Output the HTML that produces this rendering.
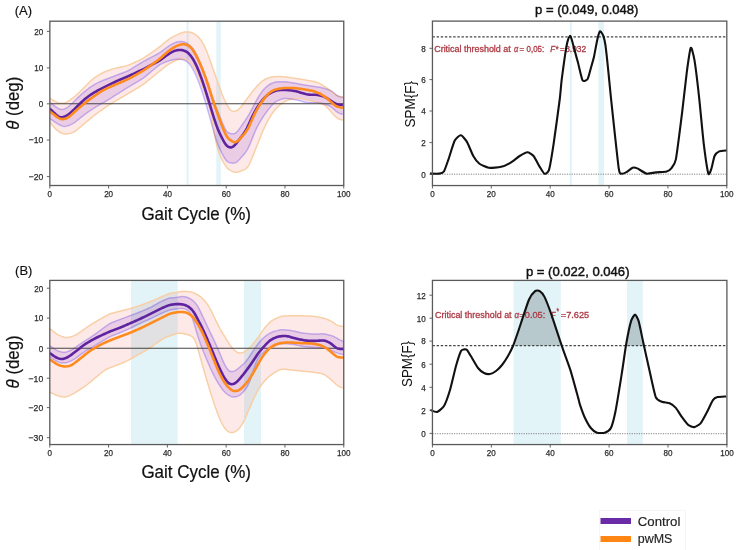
<!DOCTYPE html>
<html><head><meta charset="utf-8"><style>
html,body{margin:0;padding:0;background:#fff;}
body{width:739px;height:550px;overflow:hidden;position:relative;}
svg{position:absolute;left:0;top:0;}
.tk{font-family:"Liberation Sans",sans-serif;font-size:9.2px;fill:#2a2a2a;stroke:#2a2a2a;stroke-width:0.25;}
.lab{font-family:"Liberation Sans",sans-serif;fill:#111;}
.crit{font-family:"Liberation Sans",sans-serif;font-size:8.8px;fill:#ad3a45;stroke:#ad3a45;stroke-width:0.3;}
.big{stroke:#111;stroke-width:0.2;}
.ttl{stroke:#111;stroke-width:0.45;}
.leg{fill:#222;stroke:#222;stroke-width:0.15;}
.pl{stroke:#111;stroke-width:0.15;}
</style></head><body>
<svg width="739" height="550" viewBox="0 0 739 550">
<defs><clipPath id="cA"><rect x="49.85" y="21.20" width="293.90" height="164.30"/></clipPath>
<clipPath id="cB"><rect x="49.80" y="280.40" width="293.95" height="164.15"/></clipPath></defs>
<g clip-path="url(#cA)" style="isolation:isolate">
<path d="M48.91,97.88 L49.91,98.30 L50.91,98.84 L51.91,99.45 L52.91,100.09 L53.91,100.71 L54.91,101.29 L55.91,101.80 L56.91,102.24 L57.91,102.60 L58.91,102.89 L59.91,103.10 L60.91,103.21 L61.91,103.23 L62.91,103.15 L63.91,102.98 L64.91,102.73 L65.91,102.37 L66.91,101.92 L67.91,101.38 L68.91,100.76 L69.91,100.10 L70.91,99.41 L71.91,98.70 L72.91,97.97 L73.91,97.21 L74.91,96.41 L75.91,95.55 L76.91,94.64 L77.91,93.69 L78.91,92.71 L79.91,91.72 L80.91,90.73 L81.91,89.73 L82.91,88.73 L83.91,87.73 L84.91,86.73 L85.91,85.73 L86.91,84.73 L87.91,83.73 L88.91,82.73 L89.91,81.75 L90.91,80.78 L91.91,79.85 L92.91,78.98 L93.91,78.18 L94.91,77.44 L95.91,76.77 L96.91,76.13 L97.91,75.52 L98.91,74.92 L99.91,74.33 L100.91,73.77 L101.91,73.23 L102.91,72.72 L103.91,72.25 L104.91,71.81 L105.91,71.39 L106.91,70.99 L107.91,70.59 L108.91,70.20 L109.91,69.83 L110.91,69.48 L111.91,69.16 L112.91,68.88 L113.91,68.62 L114.91,68.37 L115.91,68.14 L116.91,67.92 L117.91,67.70 L118.91,67.47 L119.91,67.25 L120.91,67.03 L121.91,66.81 L122.91,66.58 L123.91,66.36 L124.91,66.12 L125.91,65.87 L126.91,65.60 L127.91,65.28 L128.91,64.92 L129.91,64.52 L130.91,64.09 L131.91,63.64 L132.91,63.18 L133.91,62.72 L134.91,62.26 L135.91,61.80 L136.91,61.33 L137.91,60.87 L138.91,60.40 L139.91,59.93 L140.91,59.43 L141.91,58.91 L142.91,58.35 L143.91,57.75 L144.91,57.11 L145.91,56.45 L146.91,55.78 L147.91,55.10 L148.91,54.41 L149.91,53.73 L150.91,53.04 L151.91,52.36 L152.91,51.67 L153.91,50.99 L154.91,50.30 L155.91,49.61 L156.91,48.92 L157.91,48.21 L158.91,47.47 L159.91,46.70 L160.91,45.90 L161.91,45.05 L162.91,44.19 L163.91,43.31 L164.91,42.45 L165.91,41.61 L166.91,40.81 L167.91,40.07 L168.91,39.38 L169.91,38.73 L170.91,38.11 L171.91,37.51 L172.91,36.93 L173.91,36.37 L174.91,35.84 L175.91,35.33 L176.91,34.85 L177.91,34.38 L178.91,33.93 L179.91,33.51 L180.91,33.12 L181.91,32.78 L182.91,32.50 L183.91,32.27 L184.91,32.09 L185.91,31.97 L186.91,31.91 L187.91,31.93 L188.91,32.03 L189.91,32.21 L190.91,32.46 L191.91,32.78 L192.91,33.18 L193.91,33.68 L194.91,34.27 L195.91,34.95 L196.91,35.73 L197.91,36.62 L198.91,37.63 L199.91,38.79 L200.91,40.13 L201.91,41.63 L202.91,43.32 L203.91,45.19 L204.91,47.24 L205.91,49.48 L206.91,51.88 L207.91,54.43 L208.91,57.13 L209.91,59.93 L210.91,62.79 L211.91,65.67 L212.91,68.53 L213.91,71.36 L214.91,74.16 L215.91,76.96 L216.91,79.77 L217.91,82.61 L218.91,85.46 L219.91,88.31 L220.91,91.09 L221.91,93.76 L222.91,96.26 L223.91,98.58 L224.91,100.75 L225.91,102.78 L226.91,104.70 L227.91,106.48 L228.91,108.04 L229.91,109.33 L230.91,110.29 L231.91,110.94 L232.91,111.31 L233.91,111.44 L234.91,111.34 L235.91,111.04 L236.91,110.53 L237.91,109.86 L238.91,109.04 L239.91,108.08 L240.91,106.98 L241.91,105.77 L242.91,104.48 L243.91,103.13 L244.91,101.76 L245.91,100.39 L246.91,99.02 L247.91,97.66 L248.91,96.32 L249.91,94.98 L250.91,93.65 L251.91,92.35 L252.91,91.07 L253.91,89.82 L254.91,88.63 L255.91,87.47 L256.91,86.35 L257.91,85.26 L258.91,84.21 L259.91,83.20 L260.91,82.27 L261.91,81.43 L262.91,80.70 L263.91,80.07 L264.91,79.50 L265.91,78.99 L266.91,78.51 L267.91,78.08 L268.91,77.71 L269.91,77.40 L270.91,77.17 L271.91,76.99 L272.91,76.86 L273.91,76.75 L274.91,76.65 L275.91,76.57 L276.91,76.50 L277.91,76.47 L278.91,76.47 L279.91,76.51 L280.91,76.57 L281.91,76.66 L282.91,76.75 L283.91,76.85 L284.91,76.95 L285.91,77.06 L286.91,77.18 L287.91,77.31 L288.91,77.44 L289.91,77.58 L290.91,77.73 L291.91,77.88 L292.91,78.03 L293.91,78.18 L294.91,78.33 L295.91,78.48 L296.91,78.63 L297.91,78.78 L298.91,78.94 L299.91,79.09 L300.91,79.26 L301.91,79.42 L302.91,79.59 L303.91,79.76 L304.91,79.94 L305.91,80.11 L306.91,80.29 L307.91,80.48 L308.91,80.66 L309.91,80.85 L310.91,81.03 L311.91,81.22 L312.91,81.41 L313.91,81.61 L314.91,81.82 L315.91,82.06 L316.91,82.35 L317.91,82.72 L318.91,83.17 L319.91,83.69 L320.91,84.27 L321.91,84.89 L322.91,85.52 L323.91,86.17 L324.91,86.82 L325.91,87.48 L326.91,88.16 L327.91,88.88 L328.91,89.62 L329.91,90.40 L330.91,91.20 L331.91,92.02 L332.91,92.83 L333.91,93.63 L334.91,94.37 L335.91,95.03 L336.91,95.56 L337.91,95.97 L338.91,96.26 L339.91,96.45 L340.91,96.59 L341.91,96.68 L342.91,96.75 L342.91,119.97 L341.91,119.86 L340.91,119.68 L339.91,119.40 L338.91,118.99 L337.91,118.43 L336.91,117.71 L335.91,116.87 L334.91,115.92 L333.91,114.92 L332.91,113.86 L331.91,112.75 L330.91,111.62 L329.91,110.46 L328.91,109.30 L327.91,108.18 L326.91,107.13 L325.91,106.20 L324.91,105.42 L323.91,104.80 L322.91,104.31 L321.91,103.91 L320.91,103.56 L319.91,103.24 L318.91,102.92 L317.91,102.61 L316.91,102.30 L315.91,102.00 L314.91,101.70 L313.91,101.42 L312.91,101.16 L311.91,100.90 L310.91,100.66 L309.91,100.43 L308.91,100.20 L307.91,99.97 L306.91,99.75 L305.91,99.52 L304.91,99.30 L303.91,99.08 L302.91,98.87 L301.91,98.68 L300.91,98.53 L299.91,98.43 L298.91,98.39 L297.91,98.39 L296.91,98.42 L295.91,98.48 L294.91,98.56 L293.91,98.65 L292.91,98.77 L291.91,98.94 L290.91,99.16 L289.91,99.45 L288.91,99.79 L287.91,100.17 L286.91,100.59 L285.91,101.04 L284.91,101.53 L283.91,102.09 L282.91,102.72 L281.91,103.42 L280.91,104.18 L279.91,104.99 L278.91,105.83 L277.91,106.73 L276.91,107.70 L275.91,108.75 L274.91,109.91 L273.91,111.17 L272.91,112.52 L271.91,113.94 L270.91,115.44 L269.91,117.04 L268.91,118.75 L267.91,120.56 L266.91,122.46 L265.91,124.45 L264.91,126.51 L263.91,128.65 L262.91,130.89 L261.91,133.23 L260.91,135.65 L259.91,138.13 L258.91,140.65 L257.91,143.19 L256.91,145.73 L255.91,148.27 L254.91,150.82 L253.91,153.36 L252.91,155.89 L251.91,158.39 L250.91,160.80 L249.91,163.05 L248.91,165.03 L247.91,166.65 L246.91,167.87 L245.91,168.76 L244.91,169.39 L243.91,169.87 L242.91,170.28 L241.91,170.66 L240.91,171.04 L239.91,171.40 L238.91,171.73 L237.91,172.02 L236.91,172.21 L235.91,172.26 L234.91,172.16 L233.91,171.92 L232.91,171.55 L231.91,171.11 L230.91,170.62 L229.91,170.08 L228.91,169.45 L227.91,168.68 L226.91,167.70 L225.91,166.46 L224.91,164.96 L223.91,163.24 L222.91,161.38 L221.91,159.41 L220.91,157.33 L219.91,155.08 L218.91,152.51 L217.91,149.44 L216.91,145.73 L215.91,141.33 L214.91,136.33 L213.91,130.93 L212.91,125.36 L211.91,119.85 L210.91,114.60 L209.91,109.81 L208.91,105.57 L207.91,101.88 L206.91,98.64 L205.91,95.70 L204.91,92.93 L203.91,90.24 L202.91,87.60 L201.91,85.01 L200.91,82.48 L199.91,80.02 L198.91,77.65 L197.91,75.39 L196.91,73.25 L195.91,71.25 L194.91,69.40 L193.91,67.70 L192.91,66.15 L191.91,64.75 L190.91,63.51 L189.91,62.43 L188.91,61.51 L187.91,60.75 L186.91,60.15 L185.91,59.69 L184.91,59.35 L183.91,59.11 L182.91,58.97 L181.91,58.93 L180.91,58.99 L179.91,59.15 L178.91,59.38 L177.91,59.66 L176.91,59.98 L175.91,60.33 L174.91,60.74 L173.91,61.20 L172.91,61.71 L171.91,62.26 L170.91,62.84 L169.91,63.45 L168.91,64.08 L167.91,64.74 L166.91,65.43 L165.91,66.16 L164.91,66.92 L163.91,67.70 L162.91,68.50 L161.91,69.30 L160.91,70.10 L159.91,70.91 L158.91,71.72 L157.91,72.53 L156.91,73.34 L155.91,74.16 L154.91,74.98 L153.91,75.79 L152.91,76.61 L151.91,77.42 L150.91,78.24 L149.91,79.06 L148.91,79.87 L147.91,80.69 L146.91,81.50 L145.91,82.31 L144.91,83.10 L143.91,83.87 L142.91,84.60 L141.91,85.29 L140.91,85.94 L139.91,86.57 L138.91,87.17 L137.91,87.77 L136.91,88.36 L135.91,88.96 L134.91,89.55 L133.91,90.14 L132.91,90.73 L131.91,91.32 L130.91,91.91 L129.91,92.51 L128.91,93.10 L127.91,93.69 L126.91,94.28 L125.91,94.87 L124.91,95.46 L123.91,96.05 L122.91,96.64 L121.91,97.24 L120.91,97.83 L119.91,98.42 L118.91,99.01 L117.91,99.60 L116.91,100.19 L115.91,100.78 L114.91,101.37 L113.91,101.96 L112.91,102.55 L111.91,103.15 L110.91,103.75 L109.91,104.35 L108.91,104.98 L107.91,105.62 L106.91,106.29 L105.91,106.97 L104.91,107.67 L103.91,108.38 L102.91,109.09 L101.91,109.81 L100.91,110.52 L99.91,111.24 L98.91,111.95 L97.91,112.68 L96.91,113.41 L95.91,114.16 L94.91,114.93 L93.91,115.72 L92.91,116.53 L91.91,117.36 L90.91,118.18 L89.91,119.02 L88.91,119.85 L87.91,120.68 L86.91,121.52 L85.91,122.35 L84.91,123.18 L83.91,124.02 L82.91,124.85 L81.91,125.68 L80.91,126.52 L79.91,127.35 L78.91,128.18 L77.91,129.01 L76.91,129.82 L75.91,130.59 L74.91,131.30 L73.91,131.93 L72.91,132.44 L71.91,132.84 L70.91,133.15 L69.91,133.41 L68.91,133.62 L67.91,133.80 L66.91,133.94 L65.91,134.02 L64.91,133.99 L63.91,133.85 L62.91,133.58 L61.91,133.21 L60.91,132.76 L59.91,132.24 L58.91,131.64 L57.91,130.94 L56.91,130.12 L55.91,129.18 L54.91,128.11 L53.91,126.98 L52.91,125.81 L51.91,124.67 L50.91,123.60 L49.91,122.68 L48.91,121.95 Z" fill="#fdeae8" style="mix-blend-mode:multiply"/>
<path d="M48.91,102.13 L49.91,102.59 L50.91,103.18 L51.91,103.87 L52.91,104.61 L53.91,105.38 L54.91,106.14 L55.91,106.89 L56.91,107.58 L57.91,108.19 L58.91,108.70 L59.91,109.08 L60.91,109.32 L61.91,109.41 L62.91,109.35 L63.91,109.13 L64.91,108.77 L65.91,108.28 L66.91,107.69 L67.91,107.00 L68.91,106.23 L69.91,105.39 L70.91,104.48 L71.91,103.52 L72.91,102.54 L73.91,101.54 L74.91,100.55 L75.91,99.55 L76.91,98.56 L77.91,97.59 L78.91,96.63 L79.91,95.70 L80.91,94.79 L81.91,93.91 L82.91,93.04 L83.91,92.19 L84.91,91.36 L85.91,90.55 L86.91,89.75 L87.91,88.98 L88.91,88.22 L89.91,87.47 L90.91,86.75 L91.91,86.05 L92.91,85.39 L93.91,84.78 L94.91,84.20 L95.91,83.67 L96.91,83.15 L97.91,82.65 L98.91,82.17 L99.91,81.70 L100.91,81.25 L101.91,80.82 L102.91,80.40 L103.91,80.00 L104.91,79.60 L105.91,79.22 L106.91,78.83 L107.91,78.46 L108.91,78.08 L109.91,77.70 L110.91,77.33 L111.91,76.95 L112.91,76.58 L113.91,76.20 L114.91,75.82 L115.91,75.45 L116.91,75.07 L117.91,74.70 L118.91,74.32 L119.91,73.95 L120.91,73.57 L121.91,73.20 L122.91,72.82 L123.91,72.44 L124.91,72.05 L125.91,71.65 L126.91,71.21 L127.91,70.74 L128.91,70.22 L129.91,69.66 L130.91,69.08 L131.91,68.47 L132.91,67.85 L133.91,67.23 L134.91,66.61 L135.91,65.98 L136.91,65.36 L137.91,64.74 L138.91,64.12 L139.91,63.50 L140.91,62.89 L141.91,62.30 L142.91,61.71 L143.91,61.15 L144.91,60.60 L145.91,60.07 L146.91,59.53 L147.91,59.01 L148.91,58.48 L149.91,57.95 L150.91,57.43 L151.91,56.90 L152.91,56.37 L153.91,55.85 L154.91,55.32 L155.91,54.79 L156.91,54.25 L157.91,53.69 L158.91,53.10 L159.91,52.46 L160.91,51.78 L161.91,51.05 L162.91,50.29 L163.91,49.51 L164.91,48.74 L165.91,47.98 L166.91,47.25 L167.91,46.56 L168.91,45.89 L169.91,45.26 L170.91,44.66 L171.91,44.09 L172.91,43.55 L173.91,43.07 L174.91,42.66 L175.91,42.32 L176.91,42.05 L177.91,41.82 L178.91,41.64 L179.91,41.51 L180.91,41.46 L181.91,41.50 L182.91,41.66 L183.91,41.91 L184.91,42.25 L185.91,42.68 L186.91,43.19 L187.91,43.79 L188.91,44.50 L189.91,45.31 L190.91,46.22 L191.91,47.28 L192.91,48.51 L193.91,49.94 L194.91,51.59 L195.91,53.42 L196.91,55.40 L197.91,57.51 L198.91,59.71 L199.91,62.00 L200.91,64.36 L201.91,66.80 L202.91,69.32 L203.91,71.92 L204.91,74.59 L205.91,77.33 L206.91,80.15 L207.91,83.04 L208.91,86.00 L209.91,89.01 L210.91,92.06 L211.91,95.11 L212.91,98.14 L213.91,101.09 L214.91,103.94 L215.91,106.67 L216.91,109.29 L217.91,111.84 L218.91,114.34 L219.91,116.83 L220.91,119.30 L221.91,121.75 L222.91,124.14 L223.91,126.41 L224.91,128.45 L225.91,130.15 L226.91,131.46 L227.91,132.36 L228.91,132.95 L229.91,133.31 L230.91,133.54 L231.91,133.69 L232.91,133.74 L233.91,133.65 L234.91,133.35 L235.91,132.77 L236.91,131.90 L237.91,130.79 L238.91,129.50 L239.91,128.11 L240.91,126.67 L241.91,125.22 L242.91,123.76 L243.91,122.30 L244.91,120.83 L245.91,119.34 L246.91,117.82 L247.91,116.24 L248.91,114.57 L249.91,112.81 L250.91,110.96 L251.91,109.05 L252.91,107.11 L253.91,105.18 L254.91,103.28 L255.91,101.43 L256.91,99.63 L257.91,97.89 L258.91,96.21 L259.91,94.59 L260.91,93.07 L261.91,91.66 L262.91,90.39 L263.91,89.23 L264.91,88.18 L265.91,87.20 L266.91,86.32 L267.91,85.53 L268.91,84.84 L269.91,84.26 L270.91,83.75 L271.91,83.30 L272.91,82.89 L273.91,82.53 L274.91,82.22 L275.91,81.98 L276.91,81.81 L277.91,81.72 L278.91,81.67 L279.91,81.65 L280.91,81.64 L281.91,81.65 L282.91,81.67 L283.91,81.71 L284.91,81.77 L285.91,81.86 L286.91,81.97 L287.91,82.10 L288.91,82.24 L289.91,82.38 L290.91,82.53 L291.91,82.68 L292.91,82.84 L293.91,83.01 L294.91,83.19 L295.91,83.37 L296.91,83.57 L297.91,83.76 L298.91,83.95 L299.91,84.14 L300.91,84.32 L301.91,84.50 L302.91,84.68 L303.91,84.85 L304.91,85.02 L305.91,85.18 L306.91,85.34 L307.91,85.50 L308.91,85.65 L309.91,85.80 L310.91,85.95 L311.91,86.10 L312.91,86.25 L313.91,86.40 L314.91,86.55 L315.91,86.71 L316.91,86.86 L317.91,87.01 L318.91,87.18 L319.91,87.36 L320.91,87.57 L321.91,87.80 L322.91,88.05 L323.91,88.32 L324.91,88.60 L325.91,88.89 L326.91,89.18 L327.91,89.50 L328.91,89.85 L329.91,90.27 L330.91,90.79 L331.91,91.42 L332.91,92.15 L333.91,92.95 L334.91,93.78 L335.91,94.60 L336.91,95.35 L337.91,95.99 L338.91,96.51 L339.91,96.88 L340.91,97.14 L341.91,97.32 L342.91,97.43 L342.91,114.15 L341.91,114.04 L340.91,113.86 L339.91,113.58 L338.91,113.17 L337.91,112.61 L336.91,111.90 L335.91,111.06 L334.91,110.16 L333.91,109.23 L332.91,108.34 L331.91,107.52 L330.91,106.80 L329.91,106.20 L328.91,105.70 L327.91,105.27 L326.91,104.88 L325.91,104.52 L324.91,104.16 L323.91,103.83 L322.91,103.51 L321.91,103.24 L320.91,103.03 L319.91,102.89 L318.91,102.80 L317.91,102.75 L316.91,102.74 L315.91,102.73 L314.91,102.73 L313.91,102.73 L312.91,102.73 L311.91,102.73 L310.91,102.72 L309.91,102.71 L308.91,102.69 L307.91,102.63 L306.91,102.53 L305.91,102.37 L304.91,102.17 L303.91,101.91 L302.91,101.63 L301.91,101.35 L300.91,101.06 L299.91,100.79 L298.91,100.54 L297.91,100.30 L296.91,100.07 L295.91,99.85 L294.91,99.64 L293.91,99.44 L292.91,99.24 L291.91,99.06 L290.91,98.91 L289.91,98.77 L288.91,98.66 L287.91,98.57 L286.91,98.50 L285.91,98.46 L284.91,98.47 L283.91,98.56 L282.91,98.74 L281.91,99.00 L280.91,99.34 L279.91,99.73 L278.91,100.15 L277.91,100.60 L276.91,101.11 L275.91,101.69 L274.91,102.39 L273.91,103.22 L272.91,104.19 L271.91,105.27 L270.91,106.42 L269.91,107.63 L268.91,108.88 L267.91,110.17 L266.91,111.50 L265.91,112.86 L264.91,114.26 L263.91,115.70 L262.91,117.19 L261.91,118.75 L260.91,120.38 L259.91,122.09 L258.91,123.86 L257.91,125.72 L256.91,127.67 L255.91,129.76 L254.91,132.00 L253.91,134.38 L252.91,136.88 L251.91,139.44 L250.91,141.98 L249.91,144.42 L248.91,146.68 L247.91,148.69 L246.91,150.42 L245.91,151.90 L244.91,153.21 L243.91,154.41 L242.91,155.56 L241.91,156.69 L240.91,157.81 L239.91,158.92 L238.91,159.98 L237.91,160.97 L236.91,161.82 L235.91,162.48 L234.91,162.90 L233.91,163.11 L232.91,163.14 L231.91,163.07 L230.91,162.92 L229.91,162.70 L228.91,162.37 L227.91,161.88 L226.91,161.12 L225.91,160.05 L224.91,158.67 L223.91,157.01 L222.91,155.18 L221.91,153.24 L220.91,151.22 L219.91,149.12 L218.91,146.89 L217.91,144.45 L216.91,141.75 L215.91,138.77 L214.91,135.54 L213.91,132.13 L212.91,128.62 L211.91,125.06 L210.91,121.48 L209.91,117.91 L208.91,114.34 L207.91,110.79 L206.91,107.29 L205.91,103.87 L204.91,100.55 L203.91,97.35 L202.91,94.25 L201.91,91.26 L200.91,88.37 L199.91,85.57 L198.91,82.87 L197.91,80.27 L196.91,77.80 L195.91,75.47 L194.91,73.28 L193.91,71.24 L192.91,69.36 L191.91,67.63 L190.91,66.07 L189.91,64.68 L188.91,63.47 L187.91,62.45 L186.91,61.63 L185.91,60.98 L184.91,60.47 L183.91,60.07 L182.91,59.76 L181.91,59.52 L180.91,59.36 L179.91,59.27 L178.91,59.22 L177.91,59.21 L176.91,59.23 L175.91,59.29 L174.91,59.39 L173.91,59.55 L172.91,59.76 L171.91,60.01 L170.91,60.29 L169.91,60.59 L168.91,60.90 L167.91,61.23 L166.91,61.58 L165.91,61.94 L164.91,62.33 L163.91,62.73 L162.91,63.15 L161.91,63.61 L160.91,64.12 L159.91,64.71 L158.91,65.37 L157.91,66.11 L156.91,66.89 L155.91,67.71 L154.91,68.54 L153.91,69.37 L152.91,70.21 L151.91,71.05 L150.91,71.89 L149.91,72.72 L148.91,73.56 L147.91,74.40 L146.91,75.23 L145.91,76.06 L144.91,76.87 L143.91,77.65 L142.91,78.39 L141.91,79.08 L140.91,79.73 L139.91,80.35 L138.91,80.94 L137.91,81.53 L136.91,82.11 L135.91,82.69 L134.91,83.27 L133.91,83.85 L132.91,84.43 L131.91,85.01 L130.91,85.59 L129.91,86.18 L128.91,86.77 L127.91,87.38 L126.91,87.99 L125.91,88.61 L124.91,89.24 L123.91,89.88 L122.91,90.51 L121.91,91.15 L120.91,91.79 L119.91,92.42 L118.91,93.06 L117.91,93.69 L116.91,94.33 L115.91,94.97 L114.91,95.60 L113.91,96.24 L112.91,96.88 L111.91,97.51 L110.91,98.14 L109.91,98.77 L108.91,99.39 L107.91,100.00 L106.91,100.60 L105.91,101.18 L104.91,101.76 L103.91,102.34 L102.91,102.91 L101.91,103.48 L100.91,104.05 L99.91,104.62 L98.91,105.20 L97.91,105.78 L96.91,106.37 L95.91,106.97 L94.91,107.58 L93.91,108.22 L92.91,108.86 L91.91,109.52 L90.91,110.18 L89.91,110.85 L88.91,111.52 L87.91,112.19 L86.91,112.87 L85.91,113.57 L84.91,114.29 L83.91,115.04 L82.91,115.81 L81.91,116.61 L80.91,117.43 L79.91,118.26 L78.91,119.09 L77.91,119.92 L76.91,120.74 L75.91,121.53 L74.91,122.28 L73.91,122.97 L72.91,123.58 L71.91,124.12 L70.91,124.60 L69.91,125.03 L68.91,125.44 L67.91,125.81 L66.91,126.14 L65.91,126.37 L64.91,126.49 L63.91,126.44 L62.91,126.24 L61.91,125.91 L60.91,125.49 L59.91,125.01 L58.91,124.49 L57.91,123.94 L56.91,123.34 L55.91,122.71 L54.91,122.05 L53.91,121.36 L52.91,120.67 L51.91,120.00 L50.91,119.38 L49.91,118.85 L48.91,118.43 Z" fill="#ece0fc" style="mix-blend-mode:multiply"/>
<rect x="186.60" y="21.20" width="2.00" height="164.30" fill="#e0f3f8" style="mix-blend-mode:multiply"/>
<rect x="216.30" y="21.20" width="4.50" height="164.30" fill="#e3f4f9" style="mix-blend-mode:multiply"/>
<path d="M48.91,97.88 L49.91,98.30 L50.91,98.84 L51.91,99.45 L52.91,100.09 L53.91,100.71 L54.91,101.29 L55.91,101.80 L56.91,102.24 L57.91,102.60 L58.91,102.89 L59.91,103.10 L60.91,103.21 L61.91,103.23 L62.91,103.15 L63.91,102.98 L64.91,102.73 L65.91,102.37 L66.91,101.92 L67.91,101.38 L68.91,100.76 L69.91,100.10 L70.91,99.41 L71.91,98.70 L72.91,97.97 L73.91,97.21 L74.91,96.41 L75.91,95.55 L76.91,94.64 L77.91,93.69 L78.91,92.71 L79.91,91.72 L80.91,90.73 L81.91,89.73 L82.91,88.73 L83.91,87.73 L84.91,86.73 L85.91,85.73 L86.91,84.73 L87.91,83.73 L88.91,82.73 L89.91,81.75 L90.91,80.78 L91.91,79.85 L92.91,78.98 L93.91,78.18 L94.91,77.44 L95.91,76.77 L96.91,76.13 L97.91,75.52 L98.91,74.92 L99.91,74.33 L100.91,73.77 L101.91,73.23 L102.91,72.72 L103.91,72.25 L104.91,71.81 L105.91,71.39 L106.91,70.99 L107.91,70.59 L108.91,70.20 L109.91,69.83 L110.91,69.48 L111.91,69.16 L112.91,68.88 L113.91,68.62 L114.91,68.37 L115.91,68.14 L116.91,67.92 L117.91,67.70 L118.91,67.47 L119.91,67.25 L120.91,67.03 L121.91,66.81 L122.91,66.58 L123.91,66.36 L124.91,66.12 L125.91,65.87 L126.91,65.60 L127.91,65.28 L128.91,64.92 L129.91,64.52 L130.91,64.09 L131.91,63.64 L132.91,63.18 L133.91,62.72 L134.91,62.26 L135.91,61.80 L136.91,61.33 L137.91,60.87 L138.91,60.40 L139.91,59.93 L140.91,59.43 L141.91,58.91 L142.91,58.35 L143.91,57.75 L144.91,57.11 L145.91,56.45 L146.91,55.78 L147.91,55.10 L148.91,54.41 L149.91,53.73 L150.91,53.04 L151.91,52.36 L152.91,51.67 L153.91,50.99 L154.91,50.30 L155.91,49.61 L156.91,48.92 L157.91,48.21 L158.91,47.47 L159.91,46.70 L160.91,45.90 L161.91,45.05 L162.91,44.19 L163.91,43.31 L164.91,42.45 L165.91,41.61 L166.91,40.81 L167.91,40.07 L168.91,39.38 L169.91,38.73 L170.91,38.11 L171.91,37.51 L172.91,36.93 L173.91,36.37 L174.91,35.84 L175.91,35.33 L176.91,34.85 L177.91,34.38 L178.91,33.93 L179.91,33.51 L180.91,33.12 L181.91,32.78 L182.91,32.50 L183.91,32.27 L184.91,32.09 L185.91,31.97 L186.91,31.91 L187.91,31.93 L188.91,32.03 L189.91,32.21 L190.91,32.46 L191.91,32.78 L192.91,33.18 L193.91,33.68 L194.91,34.27 L195.91,34.95 L196.91,35.73 L197.91,36.62 L198.91,37.63 L199.91,38.79 L200.91,40.13 L201.91,41.63 L202.91,43.32 L203.91,45.19 L204.91,47.24 L205.91,49.48 L206.91,51.88 L207.91,54.43 L208.91,57.13 L209.91,59.93 L210.91,62.79 L211.91,65.67 L212.91,68.53 L213.91,71.36 L214.91,74.16 L215.91,76.96 L216.91,79.77 L217.91,82.61 L218.91,85.46 L219.91,88.31 L220.91,91.09 L221.91,93.76 L222.91,96.26 L223.91,98.58 L224.91,100.75 L225.91,102.78 L226.91,104.70 L227.91,106.48 L228.91,108.04 L229.91,109.33 L230.91,110.29 L231.91,110.94 L232.91,111.31 L233.91,111.44 L234.91,111.34 L235.91,111.04 L236.91,110.53 L237.91,109.86 L238.91,109.04 L239.91,108.08 L240.91,106.98 L241.91,105.77 L242.91,104.48 L243.91,103.13 L244.91,101.76 L245.91,100.39 L246.91,99.02 L247.91,97.66 L248.91,96.32 L249.91,94.98 L250.91,93.65 L251.91,92.35 L252.91,91.07 L253.91,89.82 L254.91,88.63 L255.91,87.47 L256.91,86.35 L257.91,85.26 L258.91,84.21 L259.91,83.20 L260.91,82.27 L261.91,81.43 L262.91,80.70 L263.91,80.07 L264.91,79.50 L265.91,78.99 L266.91,78.51 L267.91,78.08 L268.91,77.71 L269.91,77.40 L270.91,77.17 L271.91,76.99 L272.91,76.86 L273.91,76.75 L274.91,76.65 L275.91,76.57 L276.91,76.50 L277.91,76.47 L278.91,76.47 L279.91,76.51 L280.91,76.57 L281.91,76.66 L282.91,76.75 L283.91,76.85 L284.91,76.95 L285.91,77.06 L286.91,77.18 L287.91,77.31 L288.91,77.44 L289.91,77.58 L290.91,77.73 L291.91,77.88 L292.91,78.03 L293.91,78.18 L294.91,78.33 L295.91,78.48 L296.91,78.63 L297.91,78.78 L298.91,78.94 L299.91,79.09 L300.91,79.26 L301.91,79.42 L302.91,79.59 L303.91,79.76 L304.91,79.94 L305.91,80.11 L306.91,80.29 L307.91,80.48 L308.91,80.66 L309.91,80.85 L310.91,81.03 L311.91,81.22 L312.91,81.41 L313.91,81.61 L314.91,81.82 L315.91,82.06 L316.91,82.35 L317.91,82.72 L318.91,83.17 L319.91,83.69 L320.91,84.27 L321.91,84.89 L322.91,85.52 L323.91,86.17 L324.91,86.82 L325.91,87.48 L326.91,88.16 L327.91,88.88 L328.91,89.62 L329.91,90.40 L330.91,91.20 L331.91,92.02 L332.91,92.83 L333.91,93.63 L334.91,94.37 L335.91,95.03 L336.91,95.56 L337.91,95.97 L338.91,96.26 L339.91,96.45 L340.91,96.59 L341.91,96.68 L342.91,96.75" fill="none" stroke="#f9cfa6" stroke-width="1.5"/>
<path d="M48.91,121.95 L49.91,122.68 L50.91,123.60 L51.91,124.67 L52.91,125.81 L53.91,126.98 L54.91,128.11 L55.91,129.18 L56.91,130.12 L57.91,130.94 L58.91,131.64 L59.91,132.24 L60.91,132.76 L61.91,133.21 L62.91,133.58 L63.91,133.85 L64.91,133.99 L65.91,134.02 L66.91,133.94 L67.91,133.80 L68.91,133.62 L69.91,133.41 L70.91,133.15 L71.91,132.84 L72.91,132.44 L73.91,131.93 L74.91,131.30 L75.91,130.59 L76.91,129.82 L77.91,129.01 L78.91,128.18 L79.91,127.35 L80.91,126.52 L81.91,125.68 L82.91,124.85 L83.91,124.02 L84.91,123.18 L85.91,122.35 L86.91,121.52 L87.91,120.68 L88.91,119.85 L89.91,119.02 L90.91,118.18 L91.91,117.36 L92.91,116.53 L93.91,115.72 L94.91,114.93 L95.91,114.16 L96.91,113.41 L97.91,112.68 L98.91,111.95 L99.91,111.24 L100.91,110.52 L101.91,109.81 L102.91,109.09 L103.91,108.38 L104.91,107.67 L105.91,106.97 L106.91,106.29 L107.91,105.62 L108.91,104.98 L109.91,104.35 L110.91,103.75 L111.91,103.15 L112.91,102.55 L113.91,101.96 L114.91,101.37 L115.91,100.78 L116.91,100.19 L117.91,99.60 L118.91,99.01 L119.91,98.42 L120.91,97.83 L121.91,97.24 L122.91,96.64 L123.91,96.05 L124.91,95.46 L125.91,94.87 L126.91,94.28 L127.91,93.69 L128.91,93.10 L129.91,92.51 L130.91,91.91 L131.91,91.32 L132.91,90.73 L133.91,90.14 L134.91,89.55 L135.91,88.96 L136.91,88.36 L137.91,87.77 L138.91,87.17 L139.91,86.57 L140.91,85.94 L141.91,85.29 L142.91,84.60 L143.91,83.87 L144.91,83.10 L145.91,82.31 L146.91,81.50 L147.91,80.69 L148.91,79.87 L149.91,79.06 L150.91,78.24 L151.91,77.42 L152.91,76.61 L153.91,75.79 L154.91,74.98 L155.91,74.16 L156.91,73.34 L157.91,72.53 L158.91,71.72 L159.91,70.91 L160.91,70.10 L161.91,69.30 L162.91,68.50 L163.91,67.70 L164.91,66.92 L165.91,66.16 L166.91,65.43 L167.91,64.74 L168.91,64.08 L169.91,63.45 L170.91,62.84 L171.91,62.26 L172.91,61.71 L173.91,61.20 L174.91,60.74 L175.91,60.33 L176.91,59.98 L177.91,59.66 L178.91,59.38 L179.91,59.15 L180.91,58.99 L181.91,58.93 L182.91,58.97 L183.91,59.11 L184.91,59.35 L185.91,59.69 L186.91,60.15 L187.91,60.75 L188.91,61.51 L189.91,62.43 L190.91,63.51 L191.91,64.75 L192.91,66.15 L193.91,67.70 L194.91,69.40 L195.91,71.25 L196.91,73.25 L197.91,75.39 L198.91,77.65 L199.91,80.02 L200.91,82.48 L201.91,85.01 L202.91,87.60 L203.91,90.24 L204.91,92.93 L205.91,95.70 L206.91,98.64 L207.91,101.88 L208.91,105.57 L209.91,109.81 L210.91,114.60 L211.91,119.85 L212.91,125.36 L213.91,130.93 L214.91,136.33 L215.91,141.33 L216.91,145.73 L217.91,149.44 L218.91,152.51 L219.91,155.08 L220.91,157.33 L221.91,159.41 L222.91,161.38 L223.91,163.24 L224.91,164.96 L225.91,166.46 L226.91,167.70 L227.91,168.68 L228.91,169.45 L229.91,170.08 L230.91,170.62 L231.91,171.11 L232.91,171.55 L233.91,171.92 L234.91,172.16 L235.91,172.26 L236.91,172.21 L237.91,172.02 L238.91,171.73 L239.91,171.40 L240.91,171.04 L241.91,170.66 L242.91,170.28 L243.91,169.87 L244.91,169.39 L245.91,168.76 L246.91,167.87 L247.91,166.65 L248.91,165.03 L249.91,163.05 L250.91,160.80 L251.91,158.39 L252.91,155.89 L253.91,153.36 L254.91,150.82 L255.91,148.27 L256.91,145.73 L257.91,143.19 L258.91,140.65 L259.91,138.13 L260.91,135.65 L261.91,133.23 L262.91,130.89 L263.91,128.65 L264.91,126.51 L265.91,124.45 L266.91,122.46 L267.91,120.56 L268.91,118.75 L269.91,117.04 L270.91,115.44 L271.91,113.94 L272.91,112.52 L273.91,111.17 L274.91,109.91 L275.91,108.75 L276.91,107.70 L277.91,106.73 L278.91,105.83 L279.91,104.99 L280.91,104.18 L281.91,103.42 L282.91,102.72 L283.91,102.09 L284.91,101.53 L285.91,101.04 L286.91,100.59 L287.91,100.17 L288.91,99.79 L289.91,99.45 L290.91,99.16 L291.91,98.94 L292.91,98.77 L293.91,98.65 L294.91,98.56 L295.91,98.48 L296.91,98.42 L297.91,98.39 L298.91,98.39 L299.91,98.43 L300.91,98.53 L301.91,98.68 L302.91,98.87 L303.91,99.08 L304.91,99.30 L305.91,99.52 L306.91,99.75 L307.91,99.97 L308.91,100.20 L309.91,100.43 L310.91,100.66 L311.91,100.90 L312.91,101.16 L313.91,101.42 L314.91,101.70 L315.91,102.00 L316.91,102.30 L317.91,102.61 L318.91,102.92 L319.91,103.24 L320.91,103.56 L321.91,103.91 L322.91,104.31 L323.91,104.80 L324.91,105.42 L325.91,106.20 L326.91,107.13 L327.91,108.18 L328.91,109.30 L329.91,110.46 L330.91,111.62 L331.91,112.75 L332.91,113.86 L333.91,114.92 L334.91,115.92 L335.91,116.87 L336.91,117.71 L337.91,118.43 L338.91,118.99 L339.91,119.40 L340.91,119.68 L341.91,119.86 L342.91,119.97" fill="none" stroke="#f9cfa6" stroke-width="1.5"/>
<path d="M48.91,102.13 L49.91,102.59 L50.91,103.18 L51.91,103.87 L52.91,104.61 L53.91,105.38 L54.91,106.14 L55.91,106.89 L56.91,107.58 L57.91,108.19 L58.91,108.70 L59.91,109.08 L60.91,109.32 L61.91,109.41 L62.91,109.35 L63.91,109.13 L64.91,108.77 L65.91,108.28 L66.91,107.69 L67.91,107.00 L68.91,106.23 L69.91,105.39 L70.91,104.48 L71.91,103.52 L72.91,102.54 L73.91,101.54 L74.91,100.55 L75.91,99.55 L76.91,98.56 L77.91,97.59 L78.91,96.63 L79.91,95.70 L80.91,94.79 L81.91,93.91 L82.91,93.04 L83.91,92.19 L84.91,91.36 L85.91,90.55 L86.91,89.75 L87.91,88.98 L88.91,88.22 L89.91,87.47 L90.91,86.75 L91.91,86.05 L92.91,85.39 L93.91,84.78 L94.91,84.20 L95.91,83.67 L96.91,83.15 L97.91,82.65 L98.91,82.17 L99.91,81.70 L100.91,81.25 L101.91,80.82 L102.91,80.40 L103.91,80.00 L104.91,79.60 L105.91,79.22 L106.91,78.83 L107.91,78.46 L108.91,78.08 L109.91,77.70 L110.91,77.33 L111.91,76.95 L112.91,76.58 L113.91,76.20 L114.91,75.82 L115.91,75.45 L116.91,75.07 L117.91,74.70 L118.91,74.32 L119.91,73.95 L120.91,73.57 L121.91,73.20 L122.91,72.82 L123.91,72.44 L124.91,72.05 L125.91,71.65 L126.91,71.21 L127.91,70.74 L128.91,70.22 L129.91,69.66 L130.91,69.08 L131.91,68.47 L132.91,67.85 L133.91,67.23 L134.91,66.61 L135.91,65.98 L136.91,65.36 L137.91,64.74 L138.91,64.12 L139.91,63.50 L140.91,62.89 L141.91,62.30 L142.91,61.71 L143.91,61.15 L144.91,60.60 L145.91,60.07 L146.91,59.53 L147.91,59.01 L148.91,58.48 L149.91,57.95 L150.91,57.43 L151.91,56.90 L152.91,56.37 L153.91,55.85 L154.91,55.32 L155.91,54.79 L156.91,54.25 L157.91,53.69 L158.91,53.10 L159.91,52.46 L160.91,51.78 L161.91,51.05 L162.91,50.29 L163.91,49.51 L164.91,48.74 L165.91,47.98 L166.91,47.25 L167.91,46.56 L168.91,45.89 L169.91,45.26 L170.91,44.66 L171.91,44.09 L172.91,43.55 L173.91,43.07 L174.91,42.66 L175.91,42.32 L176.91,42.05 L177.91,41.82 L178.91,41.64 L179.91,41.51 L180.91,41.46 L181.91,41.50 L182.91,41.66 L183.91,41.91 L184.91,42.25 L185.91,42.68 L186.91,43.19 L187.91,43.79 L188.91,44.50 L189.91,45.31 L190.91,46.22 L191.91,47.28 L192.91,48.51 L193.91,49.94 L194.91,51.59 L195.91,53.42 L196.91,55.40 L197.91,57.51 L198.91,59.71 L199.91,62.00 L200.91,64.36 L201.91,66.80 L202.91,69.32 L203.91,71.92 L204.91,74.59 L205.91,77.33 L206.91,80.15 L207.91,83.04 L208.91,86.00 L209.91,89.01 L210.91,92.06 L211.91,95.11 L212.91,98.14 L213.91,101.09 L214.91,103.94 L215.91,106.67 L216.91,109.29 L217.91,111.84 L218.91,114.34 L219.91,116.83 L220.91,119.30 L221.91,121.75 L222.91,124.14 L223.91,126.41 L224.91,128.45 L225.91,130.15 L226.91,131.46 L227.91,132.36 L228.91,132.95 L229.91,133.31 L230.91,133.54 L231.91,133.69 L232.91,133.74 L233.91,133.65 L234.91,133.35 L235.91,132.77 L236.91,131.90 L237.91,130.79 L238.91,129.50 L239.91,128.11 L240.91,126.67 L241.91,125.22 L242.91,123.76 L243.91,122.30 L244.91,120.83 L245.91,119.34 L246.91,117.82 L247.91,116.24 L248.91,114.57 L249.91,112.81 L250.91,110.96 L251.91,109.05 L252.91,107.11 L253.91,105.18 L254.91,103.28 L255.91,101.43 L256.91,99.63 L257.91,97.89 L258.91,96.21 L259.91,94.59 L260.91,93.07 L261.91,91.66 L262.91,90.39 L263.91,89.23 L264.91,88.18 L265.91,87.20 L266.91,86.32 L267.91,85.53 L268.91,84.84 L269.91,84.26 L270.91,83.75 L271.91,83.30 L272.91,82.89 L273.91,82.53 L274.91,82.22 L275.91,81.98 L276.91,81.81 L277.91,81.72 L278.91,81.67 L279.91,81.65 L280.91,81.64 L281.91,81.65 L282.91,81.67 L283.91,81.71 L284.91,81.77 L285.91,81.86 L286.91,81.97 L287.91,82.10 L288.91,82.24 L289.91,82.38 L290.91,82.53 L291.91,82.68 L292.91,82.84 L293.91,83.01 L294.91,83.19 L295.91,83.37 L296.91,83.57 L297.91,83.76 L298.91,83.95 L299.91,84.14 L300.91,84.32 L301.91,84.50 L302.91,84.68 L303.91,84.85 L304.91,85.02 L305.91,85.18 L306.91,85.34 L307.91,85.50 L308.91,85.65 L309.91,85.80 L310.91,85.95 L311.91,86.10 L312.91,86.25 L313.91,86.40 L314.91,86.55 L315.91,86.71 L316.91,86.86 L317.91,87.01 L318.91,87.18 L319.91,87.36 L320.91,87.57 L321.91,87.80 L322.91,88.05 L323.91,88.32 L324.91,88.60 L325.91,88.89 L326.91,89.18 L327.91,89.50 L328.91,89.85 L329.91,90.27 L330.91,90.79 L331.91,91.42 L332.91,92.15 L333.91,92.95 L334.91,93.78 L335.91,94.60 L336.91,95.35 L337.91,95.99 L338.91,96.51 L339.91,96.88 L340.91,97.14 L341.91,97.32 L342.91,97.43" fill="none" stroke="#cdc0ff" stroke-width="1.5" style="mix-blend-mode:multiply"/>
<path d="M48.91,118.43 L49.91,118.85 L50.91,119.38 L51.91,120.00 L52.91,120.67 L53.91,121.36 L54.91,122.05 L55.91,122.71 L56.91,123.34 L57.91,123.94 L58.91,124.49 L59.91,125.01 L60.91,125.49 L61.91,125.91 L62.91,126.24 L63.91,126.44 L64.91,126.49 L65.91,126.37 L66.91,126.14 L67.91,125.81 L68.91,125.44 L69.91,125.03 L70.91,124.60 L71.91,124.12 L72.91,123.58 L73.91,122.97 L74.91,122.28 L75.91,121.53 L76.91,120.74 L77.91,119.92 L78.91,119.09 L79.91,118.26 L80.91,117.43 L81.91,116.61 L82.91,115.81 L83.91,115.04 L84.91,114.29 L85.91,113.57 L86.91,112.87 L87.91,112.19 L88.91,111.52 L89.91,110.85 L90.91,110.18 L91.91,109.52 L92.91,108.86 L93.91,108.22 L94.91,107.58 L95.91,106.97 L96.91,106.37 L97.91,105.78 L98.91,105.20 L99.91,104.62 L100.91,104.05 L101.91,103.48 L102.91,102.91 L103.91,102.34 L104.91,101.76 L105.91,101.18 L106.91,100.60 L107.91,100.00 L108.91,99.39 L109.91,98.77 L110.91,98.14 L111.91,97.51 L112.91,96.88 L113.91,96.24 L114.91,95.60 L115.91,94.97 L116.91,94.33 L117.91,93.69 L118.91,93.06 L119.91,92.42 L120.91,91.79 L121.91,91.15 L122.91,90.51 L123.91,89.88 L124.91,89.24 L125.91,88.61 L126.91,87.99 L127.91,87.38 L128.91,86.77 L129.91,86.18 L130.91,85.59 L131.91,85.01 L132.91,84.43 L133.91,83.85 L134.91,83.27 L135.91,82.69 L136.91,82.11 L137.91,81.53 L138.91,80.94 L139.91,80.35 L140.91,79.73 L141.91,79.08 L142.91,78.39 L143.91,77.65 L144.91,76.87 L145.91,76.06 L146.91,75.23 L147.91,74.40 L148.91,73.56 L149.91,72.72 L150.91,71.89 L151.91,71.05 L152.91,70.21 L153.91,69.37 L154.91,68.54 L155.91,67.71 L156.91,66.89 L157.91,66.11 L158.91,65.37 L159.91,64.71 L160.91,64.12 L161.91,63.61 L162.91,63.15 L163.91,62.73 L164.91,62.33 L165.91,61.94 L166.91,61.58 L167.91,61.23 L168.91,60.90 L169.91,60.59 L170.91,60.29 L171.91,60.01 L172.91,59.76 L173.91,59.55 L174.91,59.39 L175.91,59.29 L176.91,59.23 L177.91,59.21 L178.91,59.22 L179.91,59.27 L180.91,59.36 L181.91,59.52 L182.91,59.76 L183.91,60.07 L184.91,60.47 L185.91,60.98 L186.91,61.63 L187.91,62.45 L188.91,63.47 L189.91,64.68 L190.91,66.07 L191.91,67.63 L192.91,69.36 L193.91,71.24 L194.91,73.28 L195.91,75.47 L196.91,77.80 L197.91,80.27 L198.91,82.87 L199.91,85.57 L200.91,88.37 L201.91,91.26 L202.91,94.25 L203.91,97.35 L204.91,100.55 L205.91,103.87 L206.91,107.29 L207.91,110.79 L208.91,114.34 L209.91,117.91 L210.91,121.48 L211.91,125.06 L212.91,128.62 L213.91,132.13 L214.91,135.54 L215.91,138.77 L216.91,141.75 L217.91,144.45 L218.91,146.89 L219.91,149.12 L220.91,151.22 L221.91,153.24 L222.91,155.18 L223.91,157.01 L224.91,158.67 L225.91,160.05 L226.91,161.12 L227.91,161.88 L228.91,162.37 L229.91,162.70 L230.91,162.92 L231.91,163.07 L232.91,163.14 L233.91,163.11 L234.91,162.90 L235.91,162.48 L236.91,161.82 L237.91,160.97 L238.91,159.98 L239.91,158.92 L240.91,157.81 L241.91,156.69 L242.91,155.56 L243.91,154.41 L244.91,153.21 L245.91,151.90 L246.91,150.42 L247.91,148.69 L248.91,146.68 L249.91,144.42 L250.91,141.98 L251.91,139.44 L252.91,136.88 L253.91,134.38 L254.91,132.00 L255.91,129.76 L256.91,127.67 L257.91,125.72 L258.91,123.86 L259.91,122.09 L260.91,120.38 L261.91,118.75 L262.91,117.19 L263.91,115.70 L264.91,114.26 L265.91,112.86 L266.91,111.50 L267.91,110.17 L268.91,108.88 L269.91,107.63 L270.91,106.42 L271.91,105.27 L272.91,104.19 L273.91,103.22 L274.91,102.39 L275.91,101.69 L276.91,101.11 L277.91,100.60 L278.91,100.15 L279.91,99.73 L280.91,99.34 L281.91,99.00 L282.91,98.74 L283.91,98.56 L284.91,98.47 L285.91,98.46 L286.91,98.50 L287.91,98.57 L288.91,98.66 L289.91,98.77 L290.91,98.91 L291.91,99.06 L292.91,99.24 L293.91,99.44 L294.91,99.64 L295.91,99.85 L296.91,100.07 L297.91,100.30 L298.91,100.54 L299.91,100.79 L300.91,101.06 L301.91,101.35 L302.91,101.63 L303.91,101.91 L304.91,102.17 L305.91,102.37 L306.91,102.53 L307.91,102.63 L308.91,102.69 L309.91,102.71 L310.91,102.72 L311.91,102.73 L312.91,102.73 L313.91,102.73 L314.91,102.73 L315.91,102.73 L316.91,102.74 L317.91,102.75 L318.91,102.80 L319.91,102.89 L320.91,103.03 L321.91,103.24 L322.91,103.51 L323.91,103.83 L324.91,104.16 L325.91,104.52 L326.91,104.88 L327.91,105.27 L328.91,105.70 L329.91,106.20 L330.91,106.80 L331.91,107.52 L332.91,108.34 L333.91,109.23 L334.91,110.16 L335.91,111.06 L336.91,111.90 L337.91,112.61 L338.91,113.17 L339.91,113.58 L340.91,113.86 L341.91,114.04 L342.91,114.15" fill="none" stroke="#cdc0ff" stroke-width="1.5" style="mix-blend-mode:multiply"/>
<line x1="49.85" y1="103.80" x2="343.75" y2="103.80" stroke="#444" stroke-width="1.1"/>
<path d="M48.91,108.48 L49.91,109.07 L50.91,109.82 L51.91,110.68 L52.91,111.62 L53.91,112.59 L54.91,113.55 L55.91,114.48 L56.91,115.33 L57.91,116.06 L58.91,116.63 L59.91,117.02 L60.91,117.23 L61.91,117.26 L62.91,117.13 L63.91,116.88 L64.91,116.51 L65.91,116.03 L66.91,115.45 L67.91,114.78 L68.91,114.03 L69.91,113.22 L70.91,112.37 L71.91,111.49 L72.91,110.58 L73.91,109.65 L74.91,108.69 L75.91,107.71 L76.91,106.72 L77.91,105.73 L78.91,104.73 L79.91,103.73 L80.91,102.74 L81.91,101.77 L82.91,100.83 L83.91,99.92 L84.91,99.06 L85.91,98.24 L86.91,97.46 L87.91,96.70 L88.91,95.96 L89.91,95.24 L90.91,94.56 L91.91,93.90 L92.91,93.28 L93.91,92.68 L94.91,92.11 L95.91,91.54 L96.91,90.99 L97.91,90.44 L98.91,89.91 L99.91,89.39 L100.91,88.87 L101.91,88.37 L102.91,87.87 L103.91,87.37 L104.91,86.87 L105.91,86.38 L106.91,85.89 L107.91,85.40 L108.91,84.91 L109.91,84.42 L110.91,83.93 L111.91,83.44 L112.91,82.95 L113.91,82.47 L114.91,81.99 L115.91,81.52 L116.91,81.05 L117.91,80.61 L118.91,80.17 L119.91,79.74 L120.91,79.32 L121.91,78.90 L122.91,78.48 L123.91,78.07 L124.91,77.65 L125.91,77.23 L126.91,76.80 L127.91,76.36 L128.91,75.91 L129.91,75.46 L130.91,75.00 L131.91,74.53 L132.91,74.06 L133.91,73.59 L134.91,73.13 L135.91,72.66 L136.91,72.19 L137.91,71.72 L138.91,71.25 L139.91,70.78 L140.91,70.30 L141.91,69.82 L142.91,69.33 L143.91,68.83 L144.91,68.32 L145.91,67.81 L146.91,67.29 L147.91,66.77 L148.91,66.25 L149.91,65.73 L150.91,65.21 L151.91,64.69 L152.91,64.17 L153.91,63.65 L154.91,63.13 L155.91,62.61 L156.91,62.08 L157.91,61.53 L158.91,60.95 L159.91,60.33 L160.91,59.66 L161.91,58.94 L162.91,58.20 L163.91,57.44 L164.91,56.69 L165.91,55.95 L166.91,55.23 L167.91,54.54 L168.91,53.89 L169.91,53.26 L170.91,52.66 L171.91,52.10 L172.91,51.58 L173.91,51.13 L174.91,50.77 L175.91,50.50 L176.91,50.30 L177.91,50.16 L178.91,50.07 L179.91,50.03 L180.91,50.05 L181.91,50.15 L182.91,50.34 L183.91,50.63 L184.91,51.01 L185.91,51.48 L186.91,52.08 L187.91,52.83 L188.91,53.74 L189.91,54.82 L190.91,56.06 L191.91,57.46 L192.91,59.03 L193.91,60.74 L194.91,62.61 L195.91,64.63 L196.91,66.80 L197.91,69.12 L198.91,71.57 L199.91,74.16 L200.91,76.86 L201.91,79.68 L202.91,82.60 L203.91,85.62 L204.91,88.72 L205.91,91.90 L206.91,95.13 L207.91,98.39 L208.91,101.67 L209.91,104.94 L210.91,108.20 L211.91,111.44 L212.91,114.66 L213.91,117.83 L214.91,120.92 L215.91,123.88 L216.91,126.64 L217.91,129.18 L218.91,131.52 L219.91,133.70 L220.91,135.78 L221.91,137.79 L222.91,139.73 L223.91,141.57 L224.91,143.24 L225.91,144.65 L226.91,145.76 L227.91,146.56 L228.91,147.08 L229.91,147.35 L230.91,147.40 L231.91,147.20 L232.91,146.71 L233.91,145.95 L234.91,144.96 L235.91,143.81 L236.91,142.57 L237.91,141.28 L238.91,139.98 L239.91,138.67 L240.91,137.36 L241.91,136.05 L242.91,134.70 L243.91,133.30 L244.91,131.79 L245.91,130.12 L246.91,128.26 L247.91,126.19 L248.91,123.98 L249.91,121.71 L250.91,119.46 L251.91,117.30 L252.91,115.25 L253.91,113.31 L254.91,111.46 L255.91,109.69 L256.91,108.00 L257.91,106.39 L258.91,104.88 L259.91,103.46 L260.91,102.11 L261.91,100.82 L262.91,99.61 L263.91,98.47 L264.91,97.43 L265.91,96.47 L266.91,95.59 L267.91,94.78 L268.91,94.03 L269.91,93.35 L270.91,92.76 L271.91,92.25 L272.91,91.81 L273.91,91.43 L274.91,91.09 L275.91,90.78 L276.91,90.51 L277.91,90.28 L278.91,90.12 L279.91,90.01 L280.91,89.95 L281.91,89.93 L282.91,89.92 L283.91,89.92 L284.91,89.93 L285.91,89.96 L286.91,90.01 L287.91,90.09 L288.91,90.18 L289.91,90.30 L290.91,90.44 L291.91,90.58 L292.91,90.73 L293.91,90.89 L294.91,91.07 L295.91,91.28 L296.91,91.53 L297.91,91.80 L298.91,92.09 L299.91,92.40 L300.91,92.70 L301.91,93.00 L302.91,93.29 L303.91,93.58 L304.91,93.86 L305.91,94.11 L306.91,94.32 L307.91,94.49 L308.91,94.60 L309.91,94.67 L310.91,94.71 L311.91,94.72 L312.91,94.73 L313.91,94.73 L314.91,94.75 L315.91,94.78 L316.91,94.85 L317.91,94.97 L318.91,95.14 L319.91,95.37 L320.91,95.63 L321.91,95.93 L322.91,96.26 L323.91,96.64 L324.91,97.08 L325.91,97.59 L326.91,98.17 L327.91,98.80 L328.91,99.46 L329.91,100.13 L330.91,100.80 L331.91,101.44 L332.91,102.04 L333.91,102.60 L334.91,103.13 L335.91,103.61 L336.91,104.03 L337.91,104.38 L338.91,104.66 L339.91,104.86 L340.91,104.98 L341.91,105.07 L342.91,105.11" fill="none" stroke="#5f23a0" stroke-width="2.60" stroke-linejoin="round"/>
<path d="M48.91,111.23 L49.91,111.71 L50.91,112.31 L51.91,113.02 L52.91,113.78 L53.91,114.56 L54.91,115.36 L55.91,116.14 L56.91,116.89 L57.91,117.57 L58.91,118.16 L59.91,118.62 L60.91,118.94 L61.91,119.11 L62.91,119.15 L63.91,119.05 L64.91,118.82 L65.91,118.47 L66.91,118.02 L67.91,117.47 L68.91,116.83 L69.91,116.10 L70.91,115.28 L71.91,114.39 L72.91,113.45 L73.91,112.51 L74.91,111.57 L75.91,110.65 L76.91,109.76 L77.91,108.88 L78.91,108.02 L79.91,107.16 L80.91,106.31 L81.91,105.47 L82.91,104.63 L83.91,103.80 L84.91,102.98 L85.91,102.18 L86.91,101.40 L87.91,100.63 L88.91,99.89 L89.91,99.17 L90.91,98.45 L91.91,97.74 L92.91,97.03 L93.91,96.33 L94.91,95.64 L95.91,94.95 L96.91,94.26 L97.91,93.58 L98.91,92.91 L99.91,92.25 L100.91,91.61 L101.91,90.99 L102.91,90.39 L103.91,89.82 L104.91,89.29 L105.91,88.79 L106.91,88.31 L107.91,87.86 L108.91,87.43 L109.91,87.00 L110.91,86.57 L111.91,86.14 L112.91,85.71 L113.91,85.29 L114.91,84.86 L115.91,84.43 L116.91,84.01 L117.91,83.58 L118.91,83.15 L119.91,82.73 L120.91,82.30 L121.91,81.87 L122.91,81.45 L123.91,81.02 L124.91,80.58 L125.91,80.14 L126.91,79.68 L127.91,79.20 L128.91,78.70 L129.91,78.17 L130.91,77.63 L131.91,77.08 L132.91,76.52 L133.91,75.96 L134.91,75.40 L135.91,74.83 L136.91,74.27 L137.91,73.71 L138.91,73.15 L139.91,72.58 L140.91,71.99 L141.91,71.39 L142.91,70.76 L143.91,70.11 L144.91,69.43 L145.91,68.74 L146.91,68.04 L147.91,67.33 L148.91,66.62 L149.91,65.91 L150.91,65.20 L151.91,64.49 L152.91,63.78 L153.91,63.07 L154.91,62.36 L155.91,61.65 L156.91,60.92 L157.91,60.19 L158.91,59.42 L159.91,58.62 L160.91,57.78 L161.91,56.90 L162.91,55.99 L163.91,55.08 L164.91,54.17 L165.91,53.28 L166.91,52.42 L167.91,51.61 L168.91,50.83 L169.91,50.10 L170.91,49.39 L171.91,48.70 L172.91,48.05 L173.91,47.44 L174.91,46.88 L175.91,46.38 L176.91,45.92 L177.91,45.50 L178.91,45.12 L179.91,44.79 L180.91,44.53 L181.91,44.35 L182.91,44.27 L183.91,44.30 L184.91,44.41 L185.91,44.62 L186.91,44.95 L187.91,45.41 L188.91,46.02 L189.91,46.81 L190.91,47.76 L191.91,48.90 L192.91,50.22 L193.91,51.71 L194.91,53.36 L195.91,55.15 L196.91,57.06 L197.91,59.08 L198.91,61.21 L199.91,63.43 L200.91,65.73 L201.91,68.12 L202.91,70.60 L203.91,73.18 L204.91,75.86 L205.91,78.64 L206.91,81.53 L207.91,84.52 L208.91,87.59 L209.91,90.72 L210.91,93.91 L211.91,97.09 L212.91,100.23 L213.91,103.28 L214.91,106.23 L215.91,109.08 L216.91,111.86 L217.91,114.59 L218.91,117.30 L219.91,120.01 L220.91,122.71 L221.91,125.38 L222.91,128.01 L223.91,130.53 L224.91,132.84 L225.91,134.87 L226.91,136.54 L227.91,137.86 L228.91,138.89 L229.91,139.73 L230.91,140.45 L231.91,141.09 L232.91,141.63 L233.91,142.02 L234.91,142.17 L235.91,142.02 L236.91,141.55 L237.91,140.81 L238.91,139.88 L239.91,138.83 L240.91,137.74 L241.91,136.62 L242.91,135.49 L243.91,134.34 L244.91,133.14 L245.91,131.83 L246.91,130.35 L247.91,128.65 L248.91,126.70 L249.91,124.55 L250.91,122.28 L251.91,119.97 L252.91,117.70 L253.91,115.51 L254.91,113.42 L255.91,111.43 L256.91,109.55 L257.91,107.79 L258.91,106.15 L259.91,104.61 L260.91,103.16 L261.91,101.75 L262.91,100.39 L263.91,99.05 L264.91,97.74 L265.91,96.48 L266.91,95.31 L267.91,94.25 L268.91,93.31 L269.91,92.51 L270.91,91.81 L271.91,91.19 L272.91,90.64 L273.91,90.17 L274.91,89.77 L275.91,89.45 L276.91,89.19 L277.91,88.98 L278.91,88.79 L279.91,88.62 L280.91,88.46 L281.91,88.32 L282.91,88.20 L283.91,88.12 L284.91,88.06 L285.91,88.03 L286.91,88.01 L287.91,88.00 L288.91,88.00 L289.91,88.00 L290.91,88.01 L291.91,88.03 L292.91,88.06 L293.91,88.10 L294.91,88.17 L295.91,88.25 L296.91,88.34 L297.91,88.44 L298.91,88.56 L299.91,88.69 L300.91,88.84 L301.91,89.00 L302.91,89.17 L303.91,89.34 L304.91,89.52 L305.91,89.70 L306.91,89.88 L307.91,90.06 L308.91,90.24 L309.91,90.43 L310.91,90.62 L311.91,90.84 L312.91,91.08 L313.91,91.36 L314.91,91.68 L315.91,92.04 L316.91,92.42 L317.91,92.83 L318.91,93.26 L319.91,93.73 L320.91,94.26 L321.91,94.83 L322.91,95.46 L323.91,96.13 L324.91,96.83 L325.91,97.55 L326.91,98.31 L327.91,99.12 L328.91,99.99 L329.91,100.90 L330.91,101.84 L331.91,102.79 L332.91,103.72 L333.91,104.57 L334.91,105.32 L335.91,105.94 L336.91,106.42 L337.91,106.79 L338.91,107.07 L339.91,107.31 L340.91,107.51 L341.91,107.67 L342.91,107.80" fill="none" stroke="#ff8a1e" stroke-width="2.60" stroke-linejoin="round"/>
</g>
<rect x="49.85" y="21.20" width="293.90" height="164.30" fill="none" stroke="#5a5a5a" stroke-width="1.3"/>
<line x1="49.85" y1="185.50" x2="49.85" y2="188.50" stroke="#555" stroke-width="0.9"/>
<text x="49.85" y="197.10" text-anchor="middle" class="tk" textLength="4.50" lengthAdjust="spacingAndGlyphs">0</text>
<line x1="108.63" y1="185.50" x2="108.63" y2="188.50" stroke="#555" stroke-width="0.9"/>
<text x="108.63" y="197.10" text-anchor="middle" class="tk" textLength="9.00" lengthAdjust="spacingAndGlyphs">20</text>
<line x1="167.41" y1="185.50" x2="167.41" y2="188.50" stroke="#555" stroke-width="0.9"/>
<text x="167.41" y="197.10" text-anchor="middle" class="tk" textLength="9.00" lengthAdjust="spacingAndGlyphs">40</text>
<line x1="226.19" y1="185.50" x2="226.19" y2="188.50" stroke="#555" stroke-width="0.9"/>
<text x="226.19" y="197.10" text-anchor="middle" class="tk" textLength="9.00" lengthAdjust="spacingAndGlyphs">60</text>
<line x1="284.97" y1="185.50" x2="284.97" y2="188.50" stroke="#555" stroke-width="0.9"/>
<text x="284.97" y="197.10" text-anchor="middle" class="tk" textLength="9.00" lengthAdjust="spacingAndGlyphs">80</text>
<line x1="343.75" y1="185.50" x2="343.75" y2="188.50" stroke="#555" stroke-width="0.9"/>
<text x="343.75" y="197.10" text-anchor="middle" class="tk" textLength="13.50" lengthAdjust="spacingAndGlyphs">100</text>
<line x1="46.85" y1="31.40" x2="49.85" y2="31.40" stroke="#555" stroke-width="0.9"/>
<text x="34.25" y="34.70" class="tk" textLength="9.00" lengthAdjust="spacingAndGlyphs">20</text>
<line x1="46.85" y1="67.90" x2="49.85" y2="67.90" stroke="#555" stroke-width="0.9"/>
<text x="34.25" y="71.20" class="tk" textLength="9.00" lengthAdjust="spacingAndGlyphs">10</text>
<line x1="46.85" y1="103.80" x2="49.85" y2="103.80" stroke="#555" stroke-width="0.9"/>
<text x="38.75" y="107.10" class="tk" textLength="4.50" lengthAdjust="spacingAndGlyphs">0</text>
<line x1="46.85" y1="140.00" x2="49.85" y2="140.00" stroke="#555" stroke-width="0.9"/>
<text x="28.65" y="143.30" class="tk" textLength="14.60" lengthAdjust="spacingAndGlyphs">−10</text>
<line x1="46.85" y1="176.60" x2="49.85" y2="176.60" stroke="#555" stroke-width="0.9"/>
<text x="28.65" y="179.90" class="tk" textLength="14.60" lengthAdjust="spacingAndGlyphs">−20</text>
<rect x="569.80" y="21.10" width="2.00" height="164.45" fill="#e0f3f8" style="mix-blend-mode:multiply"/>
<rect x="598.40" y="21.10" width="5.60" height="164.45" fill="#e3f4f9" style="mix-blend-mode:multiply"/>
<line x1="432.45" y1="36.8" x2="726.80" y2="36.8" stroke="#444" stroke-width="1.3" stroke-dasharray="2.4,1.75"/>
<line x1="432.45" y1="174.2" x2="726.80" y2="174.2" stroke="#777" stroke-width="0.9" stroke-dasharray="1.2,1.2"/>
<text x="434.20" y="51.60" class="crit" textLength="76.60" lengthAdjust="spacingAndGlyphs">Critical threshold at</text>
<text x="514.00" y="51.60" class="crit" font-style="italic" textLength="4.20" lengthAdjust="spacingAndGlyphs">α</text>
<text x="519.60" y="51.60" class="crit" textLength="4.60" lengthAdjust="spacingAndGlyphs">=</text>
<text x="526.60" y="51.60" class="crit" textLength="17.60" lengthAdjust="spacingAndGlyphs">0,05:</text>
<text x="550.30" y="51.60" class="crit" font-style="italic" textLength="8.00" lengthAdjust="spacingAndGlyphs">F*</text>
<text x="560.00" y="51.60" class="crit" textLength="4.60" lengthAdjust="spacingAndGlyphs">=</text>
<text x="565.20" y="51.60" class="crit" textLength="21.00" lengthAdjust="spacingAndGlyphs">8.932</text>
<path d="M430.00,173.63 C430.93,173.63 437.88,173.85 439.27,173.63 C440.66,173.42 442.98,172.92 443.91,171.47 C444.84,170.02 447.47,162.19 448.55,159.10 C449.63,156.01 453.49,142.94 454.73,140.56 C455.97,138.18 459.68,135.15 460.91,135.30 C462.15,135.46 465.86,140.03 467.09,142.10 C468.33,144.17 472.04,153.85 473.28,156.01 C474.51,158.18 477.91,162.57 479.46,163.74 C481.00,164.91 486.57,167.45 488.73,167.76 C490.90,168.07 498.93,167.33 501.10,166.83 C503.26,166.34 508.52,163.89 510.37,162.81 C512.23,161.73 517.94,157.06 519.64,156.01 C521.34,154.96 525.98,152.30 527.37,152.30 C528.76,152.30 532.32,154.56 533.55,156.01 C534.79,157.47 538.66,165.07 539.74,166.83 C540.82,168.59 543.45,173.32 544.37,173.63 C545.30,173.94 548.08,172.92 549.01,169.92 C549.94,166.92 552.59,150.64 553.65,143.65 C554.71,136.66 558.85,106.28 559.64,100.00 C560.43,93.73 561.10,84.73 561.55,80.91 C561.99,77.09 563.65,65.00 564.09,61.82 C564.54,58.64 565.62,51.25 566.00,49.09 C566.38,46.93 567.49,41.52 567.91,40.18 C568.33,38.85 569.82,35.79 570.20,35.73 C570.58,35.66 571.32,38.21 571.73,39.55 C572.14,40.88 573.64,46.74 574.27,49.09 C574.91,51.45 577.26,59.97 578.09,63.09 C578.92,66.21 581.59,78.68 582.55,80.27 C583.50,81.86 586.81,80.21 587.64,79.00 C588.46,77.79 590.18,70.41 590.82,68.18 C591.46,65.96 593.36,59.53 594.00,56.73 C594.64,53.93 596.61,42.70 597.18,40.18 C597.76,37.66 599.28,32.27 599.73,31.53 C600.17,30.79 601.26,32.32 601.64,32.80 C602.02,33.28 603.16,35.12 603.55,36.36 C603.93,37.61 605.07,42.73 605.46,45.27 C605.84,47.82 606.98,58.26 607.36,61.82 C607.75,65.38 608.89,77.09 609.27,80.91 C609.66,84.73 610.24,91.25 611.18,100.00 C612.13,108.75 617.67,161.01 618.73,168.38 C619.80,175.74 621.05,173.26 621.82,173.63 C622.60,174.00 625.38,172.67 626.46,172.09 C627.54,171.50 631.56,168.13 632.64,167.76 C633.72,167.39 635.89,167.79 637.28,168.38 C638.67,168.96 644.70,173.23 646.55,173.63 C648.41,174.03 653.82,172.61 655.83,172.40 C657.84,172.18 665.10,171.87 666.65,171.47 C668.19,171.07 670.36,169.61 671.28,168.38 C672.21,167.14 674.84,164.67 675.92,159.10 C677.00,153.54 681.02,121.39 682.10,112.74 C683.18,104.08 685.87,79.04 686.74,72.55 C687.60,66.06 689.98,49.06 690.76,47.82 C691.53,46.58 693.63,55.24 694.47,60.19 C695.30,65.13 698.18,88.93 699.10,97.28 C700.03,105.63 702.81,136.01 703.74,143.65 C704.67,151.28 707.60,171.16 708.38,173.63 C709.15,176.11 710.85,170.14 711.47,168.38 C712.09,166.62 713.79,157.71 714.56,156.01 C715.33,154.31 717.96,151.93 719.20,151.38 C720.43,150.82 726.15,150.54 726.92,150.45" fill="none" stroke="#111" stroke-width="2.1" stroke-linejoin="round"/>
<rect x="432.45" y="21.10" width="294.35" height="164.45" fill="none" stroke="#5a5a5a" stroke-width="1.3"/>
<line x1="432.45" y1="185.55" x2="432.45" y2="188.55" stroke="#555" stroke-width="0.9"/>
<text x="432.45" y="197.15" text-anchor="middle" class="tk" textLength="4.50" lengthAdjust="spacingAndGlyphs">0</text>
<line x1="491.32" y1="185.55" x2="491.32" y2="188.55" stroke="#555" stroke-width="0.9"/>
<text x="491.32" y="197.15" text-anchor="middle" class="tk" textLength="9.00" lengthAdjust="spacingAndGlyphs">20</text>
<line x1="550.19" y1="185.55" x2="550.19" y2="188.55" stroke="#555" stroke-width="0.9"/>
<text x="550.19" y="197.15" text-anchor="middle" class="tk" textLength="9.00" lengthAdjust="spacingAndGlyphs">40</text>
<line x1="609.06" y1="185.55" x2="609.06" y2="188.55" stroke="#555" stroke-width="0.9"/>
<text x="609.06" y="197.15" text-anchor="middle" class="tk" textLength="9.00" lengthAdjust="spacingAndGlyphs">60</text>
<line x1="667.93" y1="185.55" x2="667.93" y2="188.55" stroke="#555" stroke-width="0.9"/>
<text x="667.93" y="197.15" text-anchor="middle" class="tk" textLength="9.00" lengthAdjust="spacingAndGlyphs">80</text>
<line x1="726.80" y1="185.55" x2="726.80" y2="188.55" stroke="#555" stroke-width="0.9"/>
<text x="726.80" y="197.15" text-anchor="middle" class="tk" textLength="13.50" lengthAdjust="spacingAndGlyphs">100</text>
<line x1="429.45" y1="174.20" x2="432.45" y2="174.20" stroke="#555" stroke-width="0.9"/>
<text x="421.35" y="177.50" class="tk" textLength="4.50" lengthAdjust="spacingAndGlyphs">0</text>
<line x1="429.45" y1="142.60" x2="432.45" y2="142.60" stroke="#555" stroke-width="0.9"/>
<text x="421.35" y="145.90" class="tk" textLength="4.50" lengthAdjust="spacingAndGlyphs">2</text>
<line x1="429.45" y1="111.00" x2="432.45" y2="111.00" stroke="#555" stroke-width="0.9"/>
<text x="421.35" y="114.30" class="tk" textLength="4.50" lengthAdjust="spacingAndGlyphs">4</text>
<line x1="429.45" y1="79.60" x2="432.45" y2="79.60" stroke="#555" stroke-width="0.9"/>
<text x="421.35" y="82.90" class="tk" textLength="4.50" lengthAdjust="spacingAndGlyphs">6</text>
<line x1="429.45" y1="48.30" x2="432.45" y2="48.30" stroke="#555" stroke-width="0.9"/>
<text x="421.35" y="51.60" class="tk" textLength="4.50" lengthAdjust="spacingAndGlyphs">8</text>
<g clip-path="url(#cB)" style="isolation:isolate">
<path d="M48.91,328.36 L49.91,328.86 L50.91,329.49 L51.91,330.23 L52.91,331.02 L53.91,331.83 L54.91,332.62 L55.91,333.37 L56.91,334.05 L57.91,334.64 L58.91,335.16 L59.91,335.63 L60.91,336.06 L61.91,336.46 L62.91,336.83 L63.91,337.16 L64.91,337.41 L65.91,337.55 L66.91,337.57 L67.91,337.48 L68.91,337.29 L69.91,337.04 L70.91,336.75 L71.91,336.44 L72.91,336.10 L73.91,335.72 L74.91,335.28 L75.91,334.77 L76.91,334.19 L77.91,333.56 L78.91,332.89 L79.91,332.21 L80.91,331.51 L81.91,330.81 L82.91,330.12 L83.91,329.43 L84.91,328.75 L85.91,328.07 L86.91,327.40 L87.91,326.73 L88.91,326.06 L89.91,325.39 L90.91,324.73 L91.91,324.07 L92.91,323.41 L93.91,322.77 L94.91,322.14 L95.91,321.53 L96.91,320.94 L97.91,320.37 L98.91,319.80 L99.91,319.24 L100.91,318.69 L101.91,318.13 L102.91,317.58 L103.91,317.02 L104.91,316.47 L105.91,315.92 L106.91,315.38 L107.91,314.86 L108.91,314.37 L109.91,313.94 L110.91,313.56 L111.91,313.23 L112.91,312.94 L113.91,312.67 L114.91,312.41 L115.91,312.16 L116.91,311.91 L117.91,311.66 L118.91,311.41 L119.91,311.16 L120.91,310.91 L121.91,310.66 L122.91,310.41 L123.91,310.16 L124.91,309.91 L125.91,309.66 L126.91,309.41 L127.91,309.15 L128.91,308.89 L129.91,308.62 L130.91,308.34 L131.91,308.04 L132.91,307.74 L133.91,307.44 L134.91,307.12 L135.91,306.81 L136.91,306.50 L137.91,306.18 L138.91,305.86 L139.91,305.53 L140.91,305.18 L141.91,304.83 L142.91,304.47 L143.91,304.10 L144.91,303.73 L145.91,303.35 L146.91,302.98 L147.91,302.60 L148.91,302.21 L149.91,301.82 L150.91,301.42 L151.91,301.00 L152.91,300.58 L153.91,300.15 L154.91,299.72 L155.91,299.28 L156.91,298.84 L157.91,298.40 L158.91,297.97 L159.91,297.53 L160.91,297.10 L161.91,296.67 L162.91,296.24 L163.91,295.81 L164.91,295.38 L165.91,294.96 L166.91,294.55 L167.91,294.16 L168.91,293.82 L169.91,293.52 L170.91,293.28 L171.91,293.09 L172.91,292.93 L173.91,292.79 L174.91,292.64 L175.91,292.49 L176.91,292.32 L177.91,292.13 L178.91,291.95 L179.91,291.76 L180.91,291.60 L181.91,291.47 L182.91,291.38 L183.91,291.35 L184.91,291.36 L185.91,291.42 L186.91,291.50 L187.91,291.60 L188.91,291.72 L189.91,291.87 L190.91,292.06 L191.91,292.32 L192.91,292.65 L193.91,293.04 L194.91,293.49 L195.91,293.97 L196.91,294.47 L197.91,295.00 L198.91,295.59 L199.91,296.25 L200.91,297.02 L201.91,297.92 L202.91,298.92 L203.91,300.01 L204.91,301.17 L205.91,302.40 L206.91,303.71 L207.91,305.16 L208.91,306.75 L209.91,308.50 L210.91,310.39 L211.91,312.37 L212.91,314.40 L213.91,316.46 L214.91,318.53 L215.91,320.59 L216.91,322.64 L217.91,324.66 L218.91,326.62 L219.91,328.51 L220.91,330.30 L221.91,332.00 L222.91,333.63 L223.91,335.22 L224.91,336.82 L225.91,338.44 L226.91,340.08 L227.91,341.73 L228.91,343.34 L229.91,344.86 L230.91,346.26 L231.91,347.53 L232.91,348.67 L233.91,349.71 L234.91,350.64 L235.91,351.45 L236.91,352.10 L237.91,352.58 L238.91,352.90 L239.91,353.04 L240.91,353.02 L241.91,352.84 L242.91,352.48 L243.91,351.97 L244.91,351.34 L245.91,350.64 L246.91,349.88 L247.91,349.07 L248.91,348.20 L249.91,347.25 L250.91,346.22 L251.91,345.12 L252.91,343.97 L253.91,342.78 L254.91,341.55 L255.91,340.29 L256.91,338.97 L257.91,337.59 L258.91,336.15 L259.91,334.67 L260.91,333.18 L261.91,331.73 L262.91,330.33 L263.91,329.01 L264.91,327.78 L265.91,326.60 L266.91,325.48 L267.91,324.39 L268.91,323.35 L269.91,322.37 L270.91,321.49 L271.91,320.72 L272.91,320.06 L273.91,319.49 L274.91,318.98 L275.91,318.51 L276.91,318.06 L277.91,317.63 L278.91,317.22 L279.91,316.86 L280.91,316.56 L281.91,316.34 L282.91,316.18 L283.91,316.08 L284.91,316.02 L285.91,315.98 L286.91,315.94 L287.91,315.91 L288.91,315.87 L289.91,315.84 L290.91,315.81 L291.91,315.77 L292.91,315.74 L293.91,315.72 L294.91,315.70 L295.91,315.69 L296.91,315.70 L297.91,315.71 L298.91,315.73 L299.91,315.76 L300.91,315.79 L301.91,315.82 L302.91,315.85 L303.91,315.88 L304.91,315.91 L305.91,315.94 L306.91,315.97 L307.91,316.00 L308.91,316.04 L309.91,316.08 L310.91,316.14 L311.91,316.22 L312.91,316.32 L313.91,316.45 L314.91,316.60 L315.91,316.76 L316.91,316.92 L317.91,317.09 L318.91,317.27 L319.91,317.44 L320.91,317.63 L321.91,317.83 L322.91,318.07 L323.91,318.34 L324.91,318.65 L325.91,319.00 L326.91,319.38 L327.91,319.77 L328.91,320.19 L329.91,320.63 L330.91,321.12 L331.91,321.66 L332.91,322.26 L333.91,322.92 L334.91,323.60 L335.91,324.27 L336.91,324.88 L337.91,325.39 L338.91,325.77 L339.91,326.02 L340.91,326.17 L341.91,326.24 L342.91,326.27 L343.91,326.27 L344.91,326.28 L345.91,326.28 L345.91,388.41 L344.91,388.27 L343.91,388.09 L342.91,387.87 L341.91,387.61 L340.91,387.31 L339.91,386.92 L338.91,386.43 L337.91,385.80 L336.91,385.04 L335.91,384.18 L334.91,383.25 L333.91,382.30 L332.91,381.36 L331.91,380.44 L330.91,379.56 L329.91,378.71 L328.91,377.89 L327.91,377.09 L326.91,376.32 L325.91,375.59 L324.91,374.94 L323.91,374.39 L322.91,373.96 L321.91,373.64 L320.91,373.40 L319.91,373.21 L318.91,373.05 L317.91,372.91 L316.91,372.76 L315.91,372.62 L314.91,372.48 L313.91,372.35 L312.91,372.22 L311.91,372.10 L310.91,371.98 L309.91,371.87 L308.91,371.77 L307.91,371.67 L306.91,371.57 L305.91,371.47 L304.91,371.37 L303.91,371.27 L302.91,371.17 L301.91,371.07 L300.91,370.97 L299.91,370.87 L298.91,370.76 L297.91,370.66 L296.91,370.56 L295.91,370.46 L294.91,370.35 L293.91,370.24 L292.91,370.13 L291.91,370.02 L290.91,369.91 L289.91,369.80 L288.91,369.69 L287.91,369.58 L286.91,369.47 L285.91,369.36 L284.91,369.27 L283.91,369.20 L282.91,369.20 L281.91,369.27 L280.91,369.46 L279.91,369.77 L278.91,370.18 L277.91,370.66 L276.91,371.19 L275.91,371.75 L274.91,372.35 L273.91,372.97 L272.91,373.63 L271.91,374.33 L270.91,375.07 L269.91,375.85 L268.91,376.67 L267.91,377.54 L266.91,378.46 L265.91,379.45 L264.91,380.53 L263.91,381.71 L262.91,382.97 L261.91,384.31 L260.91,385.71 L259.91,387.18 L258.91,388.74 L257.91,390.42 L256.91,392.24 L255.91,394.20 L254.91,396.26 L253.91,398.41 L252.91,400.60 L251.91,402.82 L250.91,405.08 L249.91,407.38 L248.91,409.71 L247.91,412.06 L246.91,414.42 L245.91,416.74 L244.91,418.98 L243.91,421.08 L242.91,422.99 L241.91,424.69 L240.91,426.18 L239.91,427.50 L238.91,428.67 L237.91,429.69 L236.91,430.54 L235.91,431.23 L234.91,431.76 L233.91,432.15 L232.91,432.41 L231.91,432.51 L230.91,432.46 L229.91,432.23 L228.91,431.84 L227.91,431.29 L226.91,430.54 L225.91,429.57 L224.91,428.35 L223.91,426.88 L222.91,425.20 L221.91,423.33 L220.91,421.30 L219.91,419.11 L218.91,416.75 L217.91,414.23 L216.91,411.58 L215.91,408.83 L214.91,405.98 L213.91,403.03 L212.91,399.98 L211.91,396.85 L210.91,393.66 L209.91,390.42 L208.91,387.16 L207.91,383.87 L206.91,380.55 L205.91,377.19 L204.91,373.78 L203.91,370.31 L202.91,366.77 L201.91,363.17 L200.91,359.51 L199.91,355.85 L198.91,352.22 L197.91,348.71 L196.91,345.44 L195.91,342.58 L194.91,340.27 L193.91,338.54 L192.91,337.34 L191.91,336.52 L190.91,335.93 L189.91,335.47 L188.91,335.08 L187.91,334.75 L186.91,334.45 L185.91,334.19 L184.91,333.95 L183.91,333.73 L182.91,333.53 L181.91,333.36 L180.91,333.24 L179.91,333.19 L178.91,333.23 L177.91,333.37 L176.91,333.60 L175.91,333.87 L174.91,334.18 L173.91,334.51 L172.91,334.83 L171.91,335.17 L170.91,335.50 L169.91,335.83 L168.91,336.17 L167.91,336.52 L166.91,336.90 L165.91,337.31 L164.91,337.79 L163.91,338.32 L162.91,338.91 L161.91,339.54 L160.91,340.19 L159.91,340.85 L158.91,341.52 L157.91,342.19 L156.91,342.87 L155.91,343.56 L154.91,344.26 L153.91,344.98 L152.91,345.71 L151.91,346.45 L150.91,347.17 L149.91,347.88 L148.91,348.56 L147.91,349.21 L146.91,349.83 L145.91,350.42 L144.91,351.00 L143.91,351.56 L142.91,352.13 L141.91,352.69 L140.91,353.25 L139.91,353.82 L138.91,354.38 L137.91,354.94 L136.91,355.50 L135.91,356.07 L134.91,356.63 L133.91,357.18 L132.91,357.74 L131.91,358.28 L130.91,358.82 L129.91,359.34 L128.91,359.85 L127.91,360.36 L126.91,360.86 L125.91,361.36 L124.91,361.84 L123.91,362.32 L122.91,362.78 L121.91,363.21 L120.91,363.63 L119.91,364.03 L118.91,364.41 L117.91,364.79 L116.91,365.17 L115.91,365.54 L114.91,365.92 L113.91,366.29 L112.91,366.67 L111.91,367.04 L110.91,367.42 L109.91,367.80 L108.91,368.18 L107.91,368.58 L106.91,369.02 L105.91,369.52 L104.91,370.10 L103.91,370.76 L102.91,371.50 L101.91,372.30 L100.91,373.12 L99.91,373.97 L98.91,374.81 L97.91,375.66 L96.91,376.50 L95.91,377.34 L94.91,378.18 L93.91,379.01 L92.91,379.85 L91.91,380.68 L90.91,381.51 L89.91,382.34 L88.91,383.16 L87.91,383.97 L86.91,384.76 L85.91,385.51 L84.91,386.24 L83.91,386.94 L82.91,387.63 L81.91,388.30 L80.91,388.97 L79.91,389.63 L78.91,390.30 L77.91,390.95 L76.91,391.59 L75.91,392.20 L74.91,392.79 L73.91,393.35 L72.91,393.88 L71.91,394.40 L70.91,394.90 L69.91,395.39 L68.91,395.84 L67.91,396.24 L66.91,396.56 L65.91,396.77 L64.91,396.88 L63.91,396.88 L62.91,396.82 L61.91,396.70 L60.91,396.55 L59.91,396.34 L58.91,396.08 L57.91,395.76 L56.91,395.39 L55.91,394.98 L54.91,394.54 L53.91,394.09 L52.91,393.65 L51.91,393.22 L50.91,392.82 L49.91,392.48 L48.91,392.21 Z" fill="#fdeae8" style="mix-blend-mode:multiply"/>
<path d="M48.91,345.54 L49.91,345.97 L50.91,346.52 L51.91,347.16 L52.91,347.85 L53.91,348.55 L54.91,349.22 L55.91,349.85 L56.91,350.40 L57.91,350.86 L58.91,351.24 L59.91,351.56 L60.91,351.82 L61.91,352.02 L62.91,352.15 L63.91,352.20 L64.91,352.13 L65.91,351.95 L66.91,351.69 L67.91,351.36 L68.91,350.98 L69.91,350.56 L70.91,350.09 L71.91,349.57 L72.91,348.99 L73.91,348.36 L74.91,347.69 L75.91,347.00 L76.91,346.31 L77.91,345.61 L78.91,344.92 L79.91,344.24 L80.91,343.56 L81.91,342.90 L82.91,342.24 L83.91,341.59 L84.91,340.95 L85.91,340.31 L86.91,339.66 L87.91,339.02 L88.91,338.38 L89.91,337.73 L90.91,337.08 L91.91,336.42 L92.91,335.74 L93.91,335.05 L94.91,334.34 L95.91,333.62 L96.91,332.89 L97.91,332.15 L98.91,331.41 L99.91,330.67 L100.91,329.93 L101.91,329.18 L102.91,328.44 L103.91,327.70 L104.91,326.96 L105.91,326.22 L106.91,325.50 L107.91,324.80 L108.91,324.15 L109.91,323.55 L110.91,323.02 L111.91,322.55 L112.91,322.12 L113.91,321.73 L114.91,321.34 L115.91,320.97 L116.91,320.59 L117.91,320.22 L118.91,319.84 L119.91,319.47 L120.91,319.09 L121.91,318.72 L122.91,318.34 L123.91,317.97 L124.91,317.59 L125.91,317.22 L126.91,316.84 L127.91,316.47 L128.91,316.09 L129.91,315.72 L130.91,315.34 L131.91,314.97 L132.91,314.59 L133.91,314.22 L134.91,313.84 L135.91,313.47 L136.91,313.09 L137.91,312.71 L138.91,312.32 L139.91,311.93 L140.91,311.52 L141.91,311.11 L142.91,310.68 L143.91,310.25 L144.91,309.82 L145.91,309.38 L146.91,308.94 L147.91,308.49 L148.91,308.04 L149.91,307.57 L150.91,307.07 L151.91,306.56 L152.91,306.02 L153.91,305.48 L154.91,304.92 L155.91,304.36 L156.91,303.80 L157.91,303.24 L158.91,302.70 L159.91,302.17 L160.91,301.66 L161.91,301.18 L162.91,300.72 L163.91,300.27 L164.91,299.84 L165.91,299.42 L166.91,299.01 L167.91,298.64 L168.91,298.32 L169.91,298.08 L170.91,297.91 L171.91,297.80 L172.91,297.73 L173.91,297.66 L174.91,297.58 L175.91,297.46 L176.91,297.30 L177.91,297.12 L178.91,296.92 L179.91,296.75 L180.91,296.63 L181.91,296.58 L182.91,296.60 L183.91,296.70 L184.91,296.86 L185.91,297.06 L186.91,297.30 L187.91,297.62 L188.91,298.02 L189.91,298.53 L190.91,299.15 L191.91,299.87 L192.91,300.66 L193.91,301.54 L194.91,302.51 L195.91,303.64 L196.91,304.99 L197.91,306.57 L198.91,308.37 L199.91,310.35 L200.91,312.44 L201.91,314.58 L202.91,316.75 L203.91,318.92 L204.91,321.10 L205.91,323.26 L206.91,325.42 L207.91,327.55 L208.91,329.66 L209.91,331.74 L210.91,333.80 L211.91,335.85 L212.91,337.91 L213.91,340.01 L214.91,342.16 L215.91,344.35 L216.91,346.59 L217.91,348.87 L218.91,351.21 L219.91,353.58 L220.91,355.97 L221.91,358.35 L222.91,360.65 L223.91,362.83 L224.91,364.85 L225.91,366.67 L226.91,368.27 L227.91,369.59 L228.91,370.60 L229.91,371.26 L230.91,371.57 L231.91,371.60 L232.91,371.43 L233.91,371.11 L234.91,370.67 L235.91,370.12 L236.91,369.46 L237.91,368.72 L238.91,367.91 L239.91,367.06 L240.91,366.19 L241.91,365.31 L242.91,364.40 L243.91,363.44 L244.91,362.41 L245.91,361.27 L246.91,360.01 L247.91,358.65 L248.91,357.21 L249.91,355.73 L250.91,354.22 L251.91,352.71 L252.91,351.19 L253.91,349.68 L254.91,348.20 L255.91,346.75 L256.91,345.35 L257.91,344.01 L258.91,342.75 L259.91,341.56 L260.91,340.43 L261.91,339.36 L262.91,338.38 L263.91,337.47 L264.91,336.64 L265.91,335.87 L266.91,335.15 L267.91,334.45 L268.91,333.79 L269.91,333.18 L270.91,332.63 L271.91,332.15 L272.91,331.76 L273.91,331.43 L274.91,331.14 L275.91,330.88 L276.91,330.63 L277.91,330.39 L278.91,330.17 L279.91,330.00 L280.91,329.87 L281.91,329.80 L282.91,329.78 L283.91,329.81 L284.91,329.87 L285.91,329.95 L286.91,330.03 L287.91,330.12 L288.91,330.22 L289.91,330.34 L290.91,330.49 L291.91,330.66 L292.91,330.87 L293.91,331.09 L294.91,331.32 L295.91,331.56 L296.91,331.80 L297.91,332.04 L298.91,332.28 L299.91,332.51 L300.91,332.72 L301.91,332.92 L302.91,333.08 L303.91,333.22 L304.91,333.34 L305.91,333.44 L306.91,333.53 L307.91,333.62 L308.91,333.70 L309.91,333.79 L310.91,333.86 L311.91,333.93 L312.91,333.99 L313.91,334.02 L314.91,334.02 L315.91,334.01 L316.91,333.97 L317.91,333.93 L318.91,333.88 L319.91,333.84 L320.91,333.81 L321.91,333.81 L322.91,333.84 L323.91,333.92 L324.91,334.06 L325.91,334.24 L326.91,334.45 L327.91,334.69 L328.91,334.94 L329.91,335.20 L330.91,335.48 L331.91,335.79 L332.91,336.15 L333.91,336.58 L334.91,337.07 L335.91,337.62 L336.91,338.19 L337.91,338.77 L338.91,339.32 L339.91,339.83 L340.91,340.29 L341.91,340.69 L342.91,341.04 L343.91,341.35 L344.91,341.60 L345.91,341.80 L345.91,354.72 L344.91,354.64 L343.91,354.54 L342.91,354.42 L341.91,354.26 L340.91,354.07 L339.91,353.83 L338.91,353.55 L337.91,353.23 L336.91,352.88 L335.91,352.50 L334.91,352.10 L333.91,351.69 L332.91,351.25 L331.91,350.79 L330.91,350.32 L329.91,349.85 L328.91,349.41 L327.91,349.03 L326.91,348.71 L325.91,348.47 L324.91,348.30 L323.91,348.18 L322.91,348.09 L321.91,348.01 L320.91,347.94 L319.91,347.86 L318.91,347.79 L317.91,347.72 L316.91,347.65 L315.91,347.58 L314.91,347.51 L313.91,347.44 L312.91,347.36 L311.91,347.29 L310.91,347.22 L309.91,347.15 L308.91,347.08 L307.91,347.00 L306.91,346.92 L305.91,346.83 L304.91,346.72 L303.91,346.58 L302.91,346.42 L301.91,346.24 L300.91,346.04 L299.91,345.83 L298.91,345.62 L297.91,345.41 L296.91,345.20 L295.91,344.99 L294.91,344.79 L293.91,344.61 L292.91,344.44 L291.91,344.31 L290.91,344.19 L289.91,344.10 L288.91,344.02 L287.91,343.94 L286.91,343.87 L285.91,343.80 L284.91,343.74 L283.91,343.70 L282.91,343.69 L281.91,343.74 L280.91,343.85 L279.91,344.04 L278.91,344.29 L277.91,344.58 L276.91,344.90 L275.91,345.23 L274.91,345.57 L273.91,345.94 L272.91,346.34 L271.91,346.79 L270.91,347.30 L269.91,347.88 L268.91,348.51 L267.91,349.18 L266.91,349.87 L265.91,350.59 L264.91,351.34 L263.91,352.12 L262.91,352.97 L261.91,353.88 L260.91,354.89 L259.91,356.06 L258.91,357.44 L257.91,359.14 L256.91,361.20 L255.91,363.62 L254.91,366.33 L253.91,369.24 L252.91,372.24 L251.91,375.23 L250.91,378.14 L249.91,380.86 L248.91,383.30 L247.91,385.40 L246.91,387.16 L245.91,388.65 L244.91,389.96 L243.91,391.16 L242.91,392.28 L241.91,393.33 L240.91,394.28 L239.91,395.08 L238.91,395.71 L237.91,396.17 L236.91,396.50 L235.91,396.73 L234.91,396.88 L233.91,396.95 L232.91,396.92 L231.91,396.74 L230.91,396.42 L229.91,395.95 L228.91,395.38 L227.91,394.73 L226.91,394.02 L225.91,393.21 L224.91,392.29 L223.91,391.23 L222.91,390.02 L221.91,388.69 L220.91,387.26 L219.91,385.77 L218.91,384.23 L217.91,382.63 L216.91,380.95 L215.91,379.18 L214.91,377.32 L213.91,375.38 L212.91,373.39 L211.91,371.33 L210.91,369.22 L209.91,367.03 L208.91,364.77 L207.91,362.44 L206.91,360.08 L205.91,357.68 L204.91,355.26 L203.91,352.82 L202.91,350.34 L201.91,347.82 L200.91,345.21 L199.91,342.48 L198.91,339.58 L197.91,336.49 L196.91,333.24 L195.91,329.87 L194.91,326.46 L193.91,323.11 L192.91,319.93 L191.91,317.09 L190.91,314.72 L189.91,312.89 L188.91,311.56 L187.91,310.62 L186.91,309.94 L185.91,309.41 L184.91,308.98 L183.91,308.66 L182.91,308.46 L181.91,308.37 L180.91,308.39 L179.91,308.48 L178.91,308.62 L177.91,308.77 L176.91,308.92 L175.91,309.07 L174.91,309.21 L173.91,309.35 L172.91,309.48 L171.91,309.64 L170.91,309.83 L169.91,310.07 L168.91,310.36 L167.91,310.71 L166.91,311.09 L165.91,311.50 L164.91,311.93 L163.91,312.36 L162.91,312.79 L161.91,313.24 L160.91,313.70 L159.91,314.17 L158.91,314.65 L157.91,315.14 L156.91,315.64 L155.91,316.14 L154.91,316.64 L153.91,317.13 L152.91,317.63 L151.91,318.11 L150.91,318.59 L149.91,319.05 L148.91,319.51 L147.91,319.96 L146.91,320.40 L145.91,320.84 L144.91,321.27 L143.91,321.71 L142.91,322.16 L141.91,322.61 L140.91,323.07 L139.91,323.54 L138.91,324.02 L137.91,324.51 L136.91,325.00 L135.91,325.50 L134.91,326.00 L133.91,326.50 L132.91,326.99 L131.91,327.48 L130.91,327.96 L129.91,328.43 L128.91,328.89 L127.91,329.34 L126.91,329.78 L125.91,330.22 L124.91,330.66 L123.91,331.10 L122.91,331.53 L121.91,331.96 L120.91,332.38 L119.91,332.78 L118.91,333.18 L117.91,333.57 L116.91,333.95 L115.91,334.33 L114.91,334.71 L113.91,335.09 L112.91,335.48 L111.91,335.88 L110.91,336.32 L109.91,336.79 L108.91,337.30 L107.91,337.85 L106.91,338.43 L105.91,339.03 L104.91,339.63 L103.91,340.23 L102.91,340.84 L101.91,341.44 L100.91,342.05 L99.91,342.65 L98.91,343.25 L97.91,343.86 L96.91,344.46 L95.91,345.06 L94.91,345.65 L93.91,346.24 L92.91,346.83 L91.91,347.42 L90.91,348.00 L89.91,348.58 L88.91,349.17 L87.91,349.76 L86.91,350.36 L85.91,350.97 L84.91,351.61 L83.91,352.27 L82.91,352.96 L81.91,353.68 L80.91,354.42 L79.91,355.16 L78.91,355.91 L77.91,356.65 L76.91,357.39 L75.91,358.11 L74.91,358.79 L73.91,359.43 L72.91,360.00 L71.91,360.51 L70.91,360.97 L69.91,361.40 L68.91,361.81 L67.91,362.19 L66.91,362.53 L65.91,362.82 L64.91,363.01 L63.91,363.09 L62.91,363.06 L61.91,362.93 L60.91,362.72 L59.91,362.47 L58.91,362.15 L57.91,361.77 L56.91,361.31 L55.91,360.76 L54.91,360.13 L53.91,359.46 L52.91,358.76 L51.91,358.07 L50.91,357.43 L49.91,356.88 L48.91,356.44 Z" fill="#ece0fc" style="mix-blend-mode:multiply"/>
<rect x="131.00" y="280.40" width="46.70" height="164.15" fill="#e3f4f9" style="mix-blend-mode:multiply"/>
<rect x="244.00" y="280.40" width="17.00" height="164.15" fill="#e3f4f9" style="mix-blend-mode:multiply"/>
<path d="M48.91,328.36 L49.91,328.86 L50.91,329.49 L51.91,330.23 L52.91,331.02 L53.91,331.83 L54.91,332.62 L55.91,333.37 L56.91,334.05 L57.91,334.64 L58.91,335.16 L59.91,335.63 L60.91,336.06 L61.91,336.46 L62.91,336.83 L63.91,337.16 L64.91,337.41 L65.91,337.55 L66.91,337.57 L67.91,337.48 L68.91,337.29 L69.91,337.04 L70.91,336.75 L71.91,336.44 L72.91,336.10 L73.91,335.72 L74.91,335.28 L75.91,334.77 L76.91,334.19 L77.91,333.56 L78.91,332.89 L79.91,332.21 L80.91,331.51 L81.91,330.81 L82.91,330.12 L83.91,329.43 L84.91,328.75 L85.91,328.07 L86.91,327.40 L87.91,326.73 L88.91,326.06 L89.91,325.39 L90.91,324.73 L91.91,324.07 L92.91,323.41 L93.91,322.77 L94.91,322.14 L95.91,321.53 L96.91,320.94 L97.91,320.37 L98.91,319.80 L99.91,319.24 L100.91,318.69 L101.91,318.13 L102.91,317.58 L103.91,317.02 L104.91,316.47 L105.91,315.92 L106.91,315.38 L107.91,314.86 L108.91,314.37 L109.91,313.94 L110.91,313.56 L111.91,313.23 L112.91,312.94 L113.91,312.67 L114.91,312.41 L115.91,312.16 L116.91,311.91 L117.91,311.66 L118.91,311.41 L119.91,311.16 L120.91,310.91 L121.91,310.66 L122.91,310.41 L123.91,310.16 L124.91,309.91 L125.91,309.66 L126.91,309.41 L127.91,309.15 L128.91,308.89 L129.91,308.62 L130.91,308.34 L131.91,308.04 L132.91,307.74 L133.91,307.44 L134.91,307.12 L135.91,306.81 L136.91,306.50 L137.91,306.18 L138.91,305.86 L139.91,305.53 L140.91,305.18 L141.91,304.83 L142.91,304.47 L143.91,304.10 L144.91,303.73 L145.91,303.35 L146.91,302.98 L147.91,302.60 L148.91,302.21 L149.91,301.82 L150.91,301.42 L151.91,301.00 L152.91,300.58 L153.91,300.15 L154.91,299.72 L155.91,299.28 L156.91,298.84 L157.91,298.40 L158.91,297.97 L159.91,297.53 L160.91,297.10 L161.91,296.67 L162.91,296.24 L163.91,295.81 L164.91,295.38 L165.91,294.96 L166.91,294.55 L167.91,294.16 L168.91,293.82 L169.91,293.52 L170.91,293.28 L171.91,293.09 L172.91,292.93 L173.91,292.79 L174.91,292.64 L175.91,292.49 L176.91,292.32 L177.91,292.13 L178.91,291.95 L179.91,291.76 L180.91,291.60 L181.91,291.47 L182.91,291.38 L183.91,291.35 L184.91,291.36 L185.91,291.42 L186.91,291.50 L187.91,291.60 L188.91,291.72 L189.91,291.87 L190.91,292.06 L191.91,292.32 L192.91,292.65 L193.91,293.04 L194.91,293.49 L195.91,293.97 L196.91,294.47 L197.91,295.00 L198.91,295.59 L199.91,296.25 L200.91,297.02 L201.91,297.92 L202.91,298.92 L203.91,300.01 L204.91,301.17 L205.91,302.40 L206.91,303.71 L207.91,305.16 L208.91,306.75 L209.91,308.50 L210.91,310.39 L211.91,312.37 L212.91,314.40 L213.91,316.46 L214.91,318.53 L215.91,320.59 L216.91,322.64 L217.91,324.66 L218.91,326.62 L219.91,328.51 L220.91,330.30 L221.91,332.00 L222.91,333.63 L223.91,335.22 L224.91,336.82 L225.91,338.44 L226.91,340.08 L227.91,341.73 L228.91,343.34 L229.91,344.86 L230.91,346.26 L231.91,347.53 L232.91,348.67 L233.91,349.71 L234.91,350.64 L235.91,351.45 L236.91,352.10 L237.91,352.58 L238.91,352.90 L239.91,353.04 L240.91,353.02 L241.91,352.84 L242.91,352.48 L243.91,351.97 L244.91,351.34 L245.91,350.64 L246.91,349.88 L247.91,349.07 L248.91,348.20 L249.91,347.25 L250.91,346.22 L251.91,345.12 L252.91,343.97 L253.91,342.78 L254.91,341.55 L255.91,340.29 L256.91,338.97 L257.91,337.59 L258.91,336.15 L259.91,334.67 L260.91,333.18 L261.91,331.73 L262.91,330.33 L263.91,329.01 L264.91,327.78 L265.91,326.60 L266.91,325.48 L267.91,324.39 L268.91,323.35 L269.91,322.37 L270.91,321.49 L271.91,320.72 L272.91,320.06 L273.91,319.49 L274.91,318.98 L275.91,318.51 L276.91,318.06 L277.91,317.63 L278.91,317.22 L279.91,316.86 L280.91,316.56 L281.91,316.34 L282.91,316.18 L283.91,316.08 L284.91,316.02 L285.91,315.98 L286.91,315.94 L287.91,315.91 L288.91,315.87 L289.91,315.84 L290.91,315.81 L291.91,315.77 L292.91,315.74 L293.91,315.72 L294.91,315.70 L295.91,315.69 L296.91,315.70 L297.91,315.71 L298.91,315.73 L299.91,315.76 L300.91,315.79 L301.91,315.82 L302.91,315.85 L303.91,315.88 L304.91,315.91 L305.91,315.94 L306.91,315.97 L307.91,316.00 L308.91,316.04 L309.91,316.08 L310.91,316.14 L311.91,316.22 L312.91,316.32 L313.91,316.45 L314.91,316.60 L315.91,316.76 L316.91,316.92 L317.91,317.09 L318.91,317.27 L319.91,317.44 L320.91,317.63 L321.91,317.83 L322.91,318.07 L323.91,318.34 L324.91,318.65 L325.91,319.00 L326.91,319.38 L327.91,319.77 L328.91,320.19 L329.91,320.63 L330.91,321.12 L331.91,321.66 L332.91,322.26 L333.91,322.92 L334.91,323.60 L335.91,324.27 L336.91,324.88 L337.91,325.39 L338.91,325.77 L339.91,326.02 L340.91,326.17 L341.91,326.24 L342.91,326.27 L343.91,326.27 L344.91,326.28 L345.91,326.28" fill="none" stroke="#f9cfa6" stroke-width="1.5"/>
<path d="M48.91,392.21 L49.91,392.48 L50.91,392.82 L51.91,393.22 L52.91,393.65 L53.91,394.09 L54.91,394.54 L55.91,394.98 L56.91,395.39 L57.91,395.76 L58.91,396.08 L59.91,396.34 L60.91,396.55 L61.91,396.70 L62.91,396.82 L63.91,396.88 L64.91,396.88 L65.91,396.77 L66.91,396.56 L67.91,396.24 L68.91,395.84 L69.91,395.39 L70.91,394.90 L71.91,394.40 L72.91,393.88 L73.91,393.35 L74.91,392.79 L75.91,392.20 L76.91,391.59 L77.91,390.95 L78.91,390.30 L79.91,389.63 L80.91,388.97 L81.91,388.30 L82.91,387.63 L83.91,386.94 L84.91,386.24 L85.91,385.51 L86.91,384.76 L87.91,383.97 L88.91,383.16 L89.91,382.34 L90.91,381.51 L91.91,380.68 L92.91,379.85 L93.91,379.01 L94.91,378.18 L95.91,377.34 L96.91,376.50 L97.91,375.66 L98.91,374.81 L99.91,373.97 L100.91,373.12 L101.91,372.30 L102.91,371.50 L103.91,370.76 L104.91,370.10 L105.91,369.52 L106.91,369.02 L107.91,368.58 L108.91,368.18 L109.91,367.80 L110.91,367.42 L111.91,367.04 L112.91,366.67 L113.91,366.29 L114.91,365.92 L115.91,365.54 L116.91,365.17 L117.91,364.79 L118.91,364.41 L119.91,364.03 L120.91,363.63 L121.91,363.21 L122.91,362.78 L123.91,362.32 L124.91,361.84 L125.91,361.36 L126.91,360.86 L127.91,360.36 L128.91,359.85 L129.91,359.34 L130.91,358.82 L131.91,358.28 L132.91,357.74 L133.91,357.18 L134.91,356.63 L135.91,356.07 L136.91,355.50 L137.91,354.94 L138.91,354.38 L139.91,353.82 L140.91,353.25 L141.91,352.69 L142.91,352.13 L143.91,351.56 L144.91,351.00 L145.91,350.42 L146.91,349.83 L147.91,349.21 L148.91,348.56 L149.91,347.88 L150.91,347.17 L151.91,346.45 L152.91,345.71 L153.91,344.98 L154.91,344.26 L155.91,343.56 L156.91,342.87 L157.91,342.19 L158.91,341.52 L159.91,340.85 L160.91,340.19 L161.91,339.54 L162.91,338.91 L163.91,338.32 L164.91,337.79 L165.91,337.31 L166.91,336.90 L167.91,336.52 L168.91,336.17 L169.91,335.83 L170.91,335.50 L171.91,335.17 L172.91,334.83 L173.91,334.51 L174.91,334.18 L175.91,333.87 L176.91,333.60 L177.91,333.37 L178.91,333.23 L179.91,333.19 L180.91,333.24 L181.91,333.36 L182.91,333.53 L183.91,333.73 L184.91,333.95 L185.91,334.19 L186.91,334.45 L187.91,334.75 L188.91,335.08 L189.91,335.47 L190.91,335.93 L191.91,336.52 L192.91,337.34 L193.91,338.54 L194.91,340.27 L195.91,342.58 L196.91,345.44 L197.91,348.71 L198.91,352.22 L199.91,355.85 L200.91,359.51 L201.91,363.17 L202.91,366.77 L203.91,370.31 L204.91,373.78 L205.91,377.19 L206.91,380.55 L207.91,383.87 L208.91,387.16 L209.91,390.42 L210.91,393.66 L211.91,396.85 L212.91,399.98 L213.91,403.03 L214.91,405.98 L215.91,408.83 L216.91,411.58 L217.91,414.23 L218.91,416.75 L219.91,419.11 L220.91,421.30 L221.91,423.33 L222.91,425.20 L223.91,426.88 L224.91,428.35 L225.91,429.57 L226.91,430.54 L227.91,431.29 L228.91,431.84 L229.91,432.23 L230.91,432.46 L231.91,432.51 L232.91,432.41 L233.91,432.15 L234.91,431.76 L235.91,431.23 L236.91,430.54 L237.91,429.69 L238.91,428.67 L239.91,427.50 L240.91,426.18 L241.91,424.69 L242.91,422.99 L243.91,421.08 L244.91,418.98 L245.91,416.74 L246.91,414.42 L247.91,412.06 L248.91,409.71 L249.91,407.38 L250.91,405.08 L251.91,402.82 L252.91,400.60 L253.91,398.41 L254.91,396.26 L255.91,394.20 L256.91,392.24 L257.91,390.42 L258.91,388.74 L259.91,387.18 L260.91,385.71 L261.91,384.31 L262.91,382.97 L263.91,381.71 L264.91,380.53 L265.91,379.45 L266.91,378.46 L267.91,377.54 L268.91,376.67 L269.91,375.85 L270.91,375.07 L271.91,374.33 L272.91,373.63 L273.91,372.97 L274.91,372.35 L275.91,371.75 L276.91,371.19 L277.91,370.66 L278.91,370.18 L279.91,369.77 L280.91,369.46 L281.91,369.27 L282.91,369.20 L283.91,369.20 L284.91,369.27 L285.91,369.36 L286.91,369.47 L287.91,369.58 L288.91,369.69 L289.91,369.80 L290.91,369.91 L291.91,370.02 L292.91,370.13 L293.91,370.24 L294.91,370.35 L295.91,370.46 L296.91,370.56 L297.91,370.66 L298.91,370.76 L299.91,370.87 L300.91,370.97 L301.91,371.07 L302.91,371.17 L303.91,371.27 L304.91,371.37 L305.91,371.47 L306.91,371.57 L307.91,371.67 L308.91,371.77 L309.91,371.87 L310.91,371.98 L311.91,372.10 L312.91,372.22 L313.91,372.35 L314.91,372.48 L315.91,372.62 L316.91,372.76 L317.91,372.91 L318.91,373.05 L319.91,373.21 L320.91,373.40 L321.91,373.64 L322.91,373.96 L323.91,374.39 L324.91,374.94 L325.91,375.59 L326.91,376.32 L327.91,377.09 L328.91,377.89 L329.91,378.71 L330.91,379.56 L331.91,380.44 L332.91,381.36 L333.91,382.30 L334.91,383.25 L335.91,384.18 L336.91,385.04 L337.91,385.80 L338.91,386.43 L339.91,386.92 L340.91,387.31 L341.91,387.61 L342.91,387.87 L343.91,388.09 L344.91,388.27 L345.91,388.41" fill="none" stroke="#f9cfa6" stroke-width="1.5"/>
<path d="M48.91,345.54 L49.91,345.97 L50.91,346.52 L51.91,347.16 L52.91,347.85 L53.91,348.55 L54.91,349.22 L55.91,349.85 L56.91,350.40 L57.91,350.86 L58.91,351.24 L59.91,351.56 L60.91,351.82 L61.91,352.02 L62.91,352.15 L63.91,352.20 L64.91,352.13 L65.91,351.95 L66.91,351.69 L67.91,351.36 L68.91,350.98 L69.91,350.56 L70.91,350.09 L71.91,349.57 L72.91,348.99 L73.91,348.36 L74.91,347.69 L75.91,347.00 L76.91,346.31 L77.91,345.61 L78.91,344.92 L79.91,344.24 L80.91,343.56 L81.91,342.90 L82.91,342.24 L83.91,341.59 L84.91,340.95 L85.91,340.31 L86.91,339.66 L87.91,339.02 L88.91,338.38 L89.91,337.73 L90.91,337.08 L91.91,336.42 L92.91,335.74 L93.91,335.05 L94.91,334.34 L95.91,333.62 L96.91,332.89 L97.91,332.15 L98.91,331.41 L99.91,330.67 L100.91,329.93 L101.91,329.18 L102.91,328.44 L103.91,327.70 L104.91,326.96 L105.91,326.22 L106.91,325.50 L107.91,324.80 L108.91,324.15 L109.91,323.55 L110.91,323.02 L111.91,322.55 L112.91,322.12 L113.91,321.73 L114.91,321.34 L115.91,320.97 L116.91,320.59 L117.91,320.22 L118.91,319.84 L119.91,319.47 L120.91,319.09 L121.91,318.72 L122.91,318.34 L123.91,317.97 L124.91,317.59 L125.91,317.22 L126.91,316.84 L127.91,316.47 L128.91,316.09 L129.91,315.72 L130.91,315.34 L131.91,314.97 L132.91,314.59 L133.91,314.22 L134.91,313.84 L135.91,313.47 L136.91,313.09 L137.91,312.71 L138.91,312.32 L139.91,311.93 L140.91,311.52 L141.91,311.11 L142.91,310.68 L143.91,310.25 L144.91,309.82 L145.91,309.38 L146.91,308.94 L147.91,308.49 L148.91,308.04 L149.91,307.57 L150.91,307.07 L151.91,306.56 L152.91,306.02 L153.91,305.48 L154.91,304.92 L155.91,304.36 L156.91,303.80 L157.91,303.24 L158.91,302.70 L159.91,302.17 L160.91,301.66 L161.91,301.18 L162.91,300.72 L163.91,300.27 L164.91,299.84 L165.91,299.42 L166.91,299.01 L167.91,298.64 L168.91,298.32 L169.91,298.08 L170.91,297.91 L171.91,297.80 L172.91,297.73 L173.91,297.66 L174.91,297.58 L175.91,297.46 L176.91,297.30 L177.91,297.12 L178.91,296.92 L179.91,296.75 L180.91,296.63 L181.91,296.58 L182.91,296.60 L183.91,296.70 L184.91,296.86 L185.91,297.06 L186.91,297.30 L187.91,297.62 L188.91,298.02 L189.91,298.53 L190.91,299.15 L191.91,299.87 L192.91,300.66 L193.91,301.54 L194.91,302.51 L195.91,303.64 L196.91,304.99 L197.91,306.57 L198.91,308.37 L199.91,310.35 L200.91,312.44 L201.91,314.58 L202.91,316.75 L203.91,318.92 L204.91,321.10 L205.91,323.26 L206.91,325.42 L207.91,327.55 L208.91,329.66 L209.91,331.74 L210.91,333.80 L211.91,335.85 L212.91,337.91 L213.91,340.01 L214.91,342.16 L215.91,344.35 L216.91,346.59 L217.91,348.87 L218.91,351.21 L219.91,353.58 L220.91,355.97 L221.91,358.35 L222.91,360.65 L223.91,362.83 L224.91,364.85 L225.91,366.67 L226.91,368.27 L227.91,369.59 L228.91,370.60 L229.91,371.26 L230.91,371.57 L231.91,371.60 L232.91,371.43 L233.91,371.11 L234.91,370.67 L235.91,370.12 L236.91,369.46 L237.91,368.72 L238.91,367.91 L239.91,367.06 L240.91,366.19 L241.91,365.31 L242.91,364.40 L243.91,363.44 L244.91,362.41 L245.91,361.27 L246.91,360.01 L247.91,358.65 L248.91,357.21 L249.91,355.73 L250.91,354.22 L251.91,352.71 L252.91,351.19 L253.91,349.68 L254.91,348.20 L255.91,346.75 L256.91,345.35 L257.91,344.01 L258.91,342.75 L259.91,341.56 L260.91,340.43 L261.91,339.36 L262.91,338.38 L263.91,337.47 L264.91,336.64 L265.91,335.87 L266.91,335.15 L267.91,334.45 L268.91,333.79 L269.91,333.18 L270.91,332.63 L271.91,332.15 L272.91,331.76 L273.91,331.43 L274.91,331.14 L275.91,330.88 L276.91,330.63 L277.91,330.39 L278.91,330.17 L279.91,330.00 L280.91,329.87 L281.91,329.80 L282.91,329.78 L283.91,329.81 L284.91,329.87 L285.91,329.95 L286.91,330.03 L287.91,330.12 L288.91,330.22 L289.91,330.34 L290.91,330.49 L291.91,330.66 L292.91,330.87 L293.91,331.09 L294.91,331.32 L295.91,331.56 L296.91,331.80 L297.91,332.04 L298.91,332.28 L299.91,332.51 L300.91,332.72 L301.91,332.92 L302.91,333.08 L303.91,333.22 L304.91,333.34 L305.91,333.44 L306.91,333.53 L307.91,333.62 L308.91,333.70 L309.91,333.79 L310.91,333.86 L311.91,333.93 L312.91,333.99 L313.91,334.02 L314.91,334.02 L315.91,334.01 L316.91,333.97 L317.91,333.93 L318.91,333.88 L319.91,333.84 L320.91,333.81 L321.91,333.81 L322.91,333.84 L323.91,333.92 L324.91,334.06 L325.91,334.24 L326.91,334.45 L327.91,334.69 L328.91,334.94 L329.91,335.20 L330.91,335.48 L331.91,335.79 L332.91,336.15 L333.91,336.58 L334.91,337.07 L335.91,337.62 L336.91,338.19 L337.91,338.77 L338.91,339.32 L339.91,339.83 L340.91,340.29 L341.91,340.69 L342.91,341.04 L343.91,341.35 L344.91,341.60 L345.91,341.80" fill="none" stroke="#cdc0ff" stroke-width="1.5" style="mix-blend-mode:multiply"/>
<path d="M48.91,356.44 L49.91,356.88 L50.91,357.43 L51.91,358.07 L52.91,358.76 L53.91,359.46 L54.91,360.13 L55.91,360.76 L56.91,361.31 L57.91,361.77 L58.91,362.15 L59.91,362.47 L60.91,362.72 L61.91,362.93 L62.91,363.06 L63.91,363.09 L64.91,363.01 L65.91,362.82 L66.91,362.53 L67.91,362.19 L68.91,361.81 L69.91,361.40 L70.91,360.97 L71.91,360.51 L72.91,360.00 L73.91,359.43 L74.91,358.79 L75.91,358.11 L76.91,357.39 L77.91,356.65 L78.91,355.91 L79.91,355.16 L80.91,354.42 L81.91,353.68 L82.91,352.96 L83.91,352.27 L84.91,351.61 L85.91,350.97 L86.91,350.36 L87.91,349.76 L88.91,349.17 L89.91,348.58 L90.91,348.00 L91.91,347.42 L92.91,346.83 L93.91,346.24 L94.91,345.65 L95.91,345.06 L96.91,344.46 L97.91,343.86 L98.91,343.25 L99.91,342.65 L100.91,342.05 L101.91,341.44 L102.91,340.84 L103.91,340.23 L104.91,339.63 L105.91,339.03 L106.91,338.43 L107.91,337.85 L108.91,337.30 L109.91,336.79 L110.91,336.32 L111.91,335.88 L112.91,335.48 L113.91,335.09 L114.91,334.71 L115.91,334.33 L116.91,333.95 L117.91,333.57 L118.91,333.18 L119.91,332.78 L120.91,332.38 L121.91,331.96 L122.91,331.53 L123.91,331.10 L124.91,330.66 L125.91,330.22 L126.91,329.78 L127.91,329.34 L128.91,328.89 L129.91,328.43 L130.91,327.96 L131.91,327.48 L132.91,326.99 L133.91,326.50 L134.91,326.00 L135.91,325.50 L136.91,325.00 L137.91,324.51 L138.91,324.02 L139.91,323.54 L140.91,323.07 L141.91,322.61 L142.91,322.16 L143.91,321.71 L144.91,321.27 L145.91,320.84 L146.91,320.40 L147.91,319.96 L148.91,319.51 L149.91,319.05 L150.91,318.59 L151.91,318.11 L152.91,317.63 L153.91,317.13 L154.91,316.64 L155.91,316.14 L156.91,315.64 L157.91,315.14 L158.91,314.65 L159.91,314.17 L160.91,313.70 L161.91,313.24 L162.91,312.79 L163.91,312.36 L164.91,311.93 L165.91,311.50 L166.91,311.09 L167.91,310.71 L168.91,310.36 L169.91,310.07 L170.91,309.83 L171.91,309.64 L172.91,309.48 L173.91,309.35 L174.91,309.21 L175.91,309.07 L176.91,308.92 L177.91,308.77 L178.91,308.62 L179.91,308.48 L180.91,308.39 L181.91,308.37 L182.91,308.46 L183.91,308.66 L184.91,308.98 L185.91,309.41 L186.91,309.94 L187.91,310.62 L188.91,311.56 L189.91,312.89 L190.91,314.72 L191.91,317.09 L192.91,319.93 L193.91,323.11 L194.91,326.46 L195.91,329.87 L196.91,333.24 L197.91,336.49 L198.91,339.58 L199.91,342.48 L200.91,345.21 L201.91,347.82 L202.91,350.34 L203.91,352.82 L204.91,355.26 L205.91,357.68 L206.91,360.08 L207.91,362.44 L208.91,364.77 L209.91,367.03 L210.91,369.22 L211.91,371.33 L212.91,373.39 L213.91,375.38 L214.91,377.32 L215.91,379.18 L216.91,380.95 L217.91,382.63 L218.91,384.23 L219.91,385.77 L220.91,387.26 L221.91,388.69 L222.91,390.02 L223.91,391.23 L224.91,392.29 L225.91,393.21 L226.91,394.02 L227.91,394.73 L228.91,395.38 L229.91,395.95 L230.91,396.42 L231.91,396.74 L232.91,396.92 L233.91,396.95 L234.91,396.88 L235.91,396.73 L236.91,396.50 L237.91,396.17 L238.91,395.71 L239.91,395.08 L240.91,394.28 L241.91,393.33 L242.91,392.28 L243.91,391.16 L244.91,389.96 L245.91,388.65 L246.91,387.16 L247.91,385.40 L248.91,383.30 L249.91,380.86 L250.91,378.14 L251.91,375.23 L252.91,372.24 L253.91,369.24 L254.91,366.33 L255.91,363.62 L256.91,361.20 L257.91,359.14 L258.91,357.44 L259.91,356.06 L260.91,354.89 L261.91,353.88 L262.91,352.97 L263.91,352.12 L264.91,351.34 L265.91,350.59 L266.91,349.87 L267.91,349.18 L268.91,348.51 L269.91,347.88 L270.91,347.30 L271.91,346.79 L272.91,346.34 L273.91,345.94 L274.91,345.57 L275.91,345.23 L276.91,344.90 L277.91,344.58 L278.91,344.29 L279.91,344.04 L280.91,343.85 L281.91,343.74 L282.91,343.69 L283.91,343.70 L284.91,343.74 L285.91,343.80 L286.91,343.87 L287.91,343.94 L288.91,344.02 L289.91,344.10 L290.91,344.19 L291.91,344.31 L292.91,344.44 L293.91,344.61 L294.91,344.79 L295.91,344.99 L296.91,345.20 L297.91,345.41 L298.91,345.62 L299.91,345.83 L300.91,346.04 L301.91,346.24 L302.91,346.42 L303.91,346.58 L304.91,346.72 L305.91,346.83 L306.91,346.92 L307.91,347.00 L308.91,347.08 L309.91,347.15 L310.91,347.22 L311.91,347.29 L312.91,347.36 L313.91,347.44 L314.91,347.51 L315.91,347.58 L316.91,347.65 L317.91,347.72 L318.91,347.79 L319.91,347.86 L320.91,347.94 L321.91,348.01 L322.91,348.09 L323.91,348.18 L324.91,348.30 L325.91,348.47 L326.91,348.71 L327.91,349.03 L328.91,349.41 L329.91,349.85 L330.91,350.32 L331.91,350.79 L332.91,351.25 L333.91,351.69 L334.91,352.10 L335.91,352.50 L336.91,352.88 L337.91,353.23 L338.91,353.55 L339.91,353.83 L340.91,354.07 L341.91,354.26 L342.91,354.42 L343.91,354.54 L344.91,354.64 L345.91,354.72" fill="none" stroke="#cdc0ff" stroke-width="1.5" style="mix-blend-mode:multiply"/>
<line x1="49.80" y1="348.20" x2="343.75" y2="348.20" stroke="#444" stroke-width="1.1"/>
<path d="M48.91,352.87 L49.91,353.34 L50.91,353.94 L51.91,354.62 L52.91,355.33 L53.91,356.03 L54.91,356.68 L55.91,357.25 L56.91,357.75 L57.91,358.17 L58.91,358.52 L59.91,358.79 L60.91,358.95 L61.91,358.98 L62.91,358.88 L63.91,358.66 L64.91,358.35 L65.91,357.96 L66.91,357.52 L67.91,357.00 L68.91,356.41 L69.91,355.76 L70.91,355.06 L71.91,354.33 L72.91,353.58 L73.91,352.82 L74.91,352.06 L75.91,351.28 L76.91,350.49 L77.91,349.70 L78.91,348.91 L79.91,348.11 L80.91,347.32 L81.91,346.54 L82.91,345.78 L83.91,345.05 L84.91,344.36 L85.91,343.71 L86.91,343.09 L87.91,342.49 L88.91,341.90 L89.91,341.31 L90.91,340.73 L91.91,340.15 L92.91,339.58 L93.91,339.02 L94.91,338.48 L95.91,337.97 L96.91,337.47 L97.91,336.99 L98.91,336.53 L99.91,336.07 L100.91,335.61 L101.91,335.15 L102.91,334.69 L103.91,334.24 L104.91,333.78 L105.91,333.33 L106.91,332.87 L107.91,332.43 L108.91,331.99 L109.91,331.56 L110.91,331.15 L111.91,330.76 L112.91,330.37 L113.91,329.99 L114.91,329.61 L115.91,329.24 L116.91,328.86 L117.91,328.48 L118.91,328.09 L119.91,327.69 L120.91,327.28 L121.91,326.86 L122.91,326.44 L123.91,326.00 L124.91,325.57 L125.91,325.13 L126.91,324.69 L127.91,324.26 L128.91,323.82 L129.91,323.38 L130.91,322.94 L131.91,322.51 L132.91,322.07 L133.91,321.63 L134.91,321.19 L135.91,320.76 L136.91,320.32 L137.91,319.87 L138.91,319.43 L139.91,318.97 L140.91,318.50 L141.91,318.02 L142.91,317.54 L143.91,317.04 L144.91,316.55 L145.91,316.05 L146.91,315.55 L147.91,315.05 L148.91,314.55 L149.91,314.05 L150.91,313.55 L151.91,313.05 L152.91,312.55 L153.91,312.05 L154.91,311.55 L155.91,311.05 L156.91,310.55 L157.91,310.05 L158.91,309.56 L159.91,309.08 L160.91,308.61 L161.91,308.15 L162.91,307.70 L163.91,307.27 L164.91,306.84 L165.91,306.41 L166.91,306.00 L167.91,305.62 L168.91,305.28 L169.91,304.99 L170.91,304.77 L171.91,304.59 L172.91,304.46 L173.91,304.35 L174.91,304.25 L175.91,304.17 L176.91,304.11 L177.91,304.07 L178.91,304.08 L179.91,304.14 L180.91,304.25 L181.91,304.40 L182.91,304.59 L183.91,304.81 L184.91,305.08 L185.91,305.43 L186.91,305.88 L187.91,306.43 L188.91,307.10 L189.91,307.87 L190.91,308.76 L191.91,309.78 L192.91,310.98 L193.91,312.38 L194.91,313.99 L195.91,315.75 L196.91,317.61 L197.91,319.53 L198.91,321.48 L199.91,323.44 L200.91,325.43 L201.91,327.45 L202.91,329.52 L203.91,331.65 L204.91,333.84 L205.91,336.08 L206.91,338.35 L207.91,340.65 L208.91,342.98 L209.91,345.33 L210.91,347.71 L211.91,350.12 L212.91,352.55 L213.91,355.00 L214.91,357.44 L215.91,359.86 L216.91,362.24 L217.91,364.57 L218.91,366.84 L219.91,369.04 L220.91,371.17 L221.91,373.19 L222.91,375.11 L223.91,376.91 L224.91,378.58 L225.91,380.08 L226.91,381.38 L227.91,382.44 L228.91,383.25 L229.91,383.80 L230.91,384.11 L231.91,384.18 L232.91,384.04 L233.91,383.73 L234.91,383.23 L235.91,382.56 L236.91,381.73 L237.91,380.76 L238.91,379.68 L239.91,378.55 L240.91,377.38 L241.91,376.18 L242.91,374.95 L243.91,373.69 L244.91,372.39 L245.91,371.07 L246.91,369.73 L247.91,368.37 L248.91,367.01 L249.91,365.62 L250.91,364.22 L251.91,362.77 L252.91,361.28 L253.91,359.76 L254.91,358.23 L255.91,356.71 L256.91,355.24 L257.91,353.83 L258.91,352.50 L259.91,351.24 L260.91,350.04 L261.91,348.87 L262.91,347.73 L263.91,346.61 L264.91,345.50 L265.91,344.41 L266.91,343.35 L267.91,342.35 L268.91,341.42 L269.91,340.61 L270.91,339.90 L271.91,339.30 L272.91,338.77 L273.91,338.29 L274.91,337.84 L275.91,337.42 L276.91,337.05 L277.91,336.75 L278.91,336.51 L279.91,336.34 L280.91,336.21 L281.91,336.12 L282.91,336.05 L283.91,336.01 L284.91,336.01 L285.91,336.07 L286.91,336.19 L287.91,336.37 L288.91,336.60 L289.91,336.86 L290.91,337.14 L291.91,337.41 L292.91,337.69 L293.91,337.97 L294.91,338.24 L295.91,338.49 L296.91,338.74 L297.91,338.97 L298.91,339.19 L299.91,339.41 L300.91,339.63 L301.91,339.84 L302.91,340.05 L303.91,340.24 L304.91,340.41 L305.91,340.54 L306.91,340.64 L307.91,340.72 L308.91,340.77 L309.91,340.81 L310.91,340.85 L311.91,340.88 L312.91,340.90 L313.91,340.91 L314.91,340.91 L315.91,340.88 L316.91,340.82 L317.91,340.75 L318.91,340.67 L319.91,340.58 L320.91,340.52 L321.91,340.49 L322.91,340.52 L323.91,340.62 L324.91,340.82 L325.91,341.10 L326.91,341.44 L327.91,341.85 L328.91,342.33 L329.91,342.90 L330.91,343.58 L331.91,344.35 L332.91,345.18 L333.91,346.03 L334.91,346.84 L335.91,347.55 L336.91,348.11 L337.91,348.51 L338.91,348.76 L339.91,348.90 L340.91,348.98 L341.91,349.03 L342.91,349.06 L343.91,349.09 L344.91,349.12 L345.91,349.14" fill="none" stroke="#5f23a0" stroke-width="2.60" stroke-linejoin="round"/>
<path d="M48.91,359.17 L49.91,359.61 L50.91,360.16 L51.91,360.80 L52.91,361.49 L53.91,362.19 L54.91,362.87 L55.91,363.52 L56.91,364.09 L57.91,364.60 L58.91,365.04 L59.91,365.41 L60.91,365.75 L61.91,366.03 L62.91,366.26 L63.91,366.41 L64.91,366.47 L65.91,366.44 L66.91,366.32 L67.91,366.15 L68.91,365.93 L69.91,365.64 L70.91,365.27 L71.91,364.79 L72.91,364.21 L73.91,363.54 L74.91,362.80 L75.91,362.03 L76.91,361.23 L77.91,360.44 L78.91,359.64 L79.91,358.84 L80.91,358.04 L81.91,357.24 L82.91,356.44 L83.91,355.64 L84.91,354.84 L85.91,354.04 L86.91,353.26 L87.91,352.48 L88.91,351.74 L89.91,351.03 L90.91,350.36 L91.91,349.73 L92.91,349.12 L93.91,348.53 L94.91,347.94 L95.91,347.36 L96.91,346.78 L97.91,346.20 L98.91,345.64 L99.91,345.09 L100.91,344.57 L101.91,344.07 L102.91,343.59 L103.91,343.12 L104.91,342.66 L105.91,342.21 L106.91,341.76 L107.91,341.32 L108.91,340.89 L109.91,340.47 L110.91,340.06 L111.91,339.67 L112.91,339.28 L113.91,338.90 L114.91,338.52 L115.91,338.15 L116.91,337.77 L117.91,337.40 L118.91,337.02 L119.91,336.65 L120.91,336.27 L121.91,335.90 L122.91,335.52 L123.91,335.15 L124.91,334.77 L125.91,334.40 L126.91,334.02 L127.91,333.64 L128.91,333.25 L129.91,332.86 L130.91,332.45 L131.91,332.03 L132.91,331.61 L133.91,331.17 L134.91,330.74 L135.91,330.30 L136.91,329.86 L137.91,329.42 L138.91,328.97 L139.91,328.52 L140.91,328.05 L141.91,327.57 L142.91,327.08 L143.91,326.59 L144.91,326.09 L145.91,325.59 L146.91,325.09 L147.91,324.59 L148.91,324.09 L149.91,323.59 L150.91,323.09 L151.91,322.59 L152.91,322.09 L153.91,321.59 L154.91,321.09 L155.91,320.59 L156.91,320.09 L157.91,319.59 L158.91,319.09 L159.91,318.59 L160.91,318.09 L161.91,317.59 L162.91,317.09 L163.91,316.59 L164.91,316.09 L165.91,315.60 L166.91,315.12 L167.91,314.66 L168.91,314.24 L169.91,313.86 L170.91,313.54 L171.91,313.27 L172.91,313.03 L173.91,312.82 L174.91,312.61 L175.91,312.42 L176.91,312.25 L177.91,312.10 L178.91,312.00 L179.91,311.95 L180.91,311.95 L181.91,311.98 L182.91,312.06 L183.91,312.16 L184.91,312.32 L185.91,312.56 L186.91,312.89 L187.91,313.34 L188.91,313.90 L189.91,314.56 L190.91,315.32 L191.91,316.20 L192.91,317.22 L193.91,318.41 L194.91,319.75 L195.91,321.23 L196.91,322.79 L197.91,324.42 L198.91,326.10 L199.91,327.85 L200.91,329.70 L201.91,331.66 L202.91,333.74 L203.91,335.92 L204.91,338.16 L205.91,340.45 L206.91,342.77 L207.91,345.13 L208.91,347.53 L209.91,349.97 L210.91,352.45 L211.91,354.96 L212.91,357.49 L213.91,360.02 L214.91,362.54 L215.91,365.03 L216.91,367.47 L217.91,369.82 L218.91,372.07 L219.91,374.19 L220.91,376.19 L221.91,378.07 L222.91,379.85 L223.91,381.52 L224.91,383.06 L225.91,384.44 L226.91,385.66 L227.91,386.75 L228.91,387.74 L229.91,388.65 L230.91,389.46 L231.91,390.14 L232.91,390.65 L233.91,390.96 L234.91,391.08 L235.91,391.02 L236.91,390.84 L237.91,390.52 L238.91,390.06 L239.91,389.45 L240.91,388.68 L241.91,387.79 L242.91,386.80 L243.91,385.76 L244.91,384.68 L245.91,383.55 L246.91,382.37 L247.91,381.10 L248.91,379.71 L249.91,378.22 L250.91,376.63 L251.91,374.98 L252.91,373.30 L253.91,371.59 L254.91,369.86 L255.91,368.10 L256.91,366.31 L257.91,364.49 L258.91,362.65 L259.91,360.84 L260.91,359.11 L261.91,357.50 L262.91,356.02 L263.91,354.66 L264.91,353.39 L265.91,352.17 L266.91,351.01 L267.91,349.91 L268.91,348.90 L269.91,348.01 L270.91,347.24 L271.91,346.59 L272.91,346.01 L273.91,345.49 L274.91,345.00 L275.91,344.54 L276.91,344.13 L277.91,343.79 L278.91,343.52 L279.91,343.31 L280.91,343.14 L281.91,343.00 L282.91,342.88 L283.91,342.77 L284.91,342.66 L285.91,342.57 L286.91,342.50 L287.91,342.47 L288.91,342.46 L289.91,342.48 L290.91,342.53 L291.91,342.58 L292.91,342.64 L293.91,342.70 L294.91,342.76 L295.91,342.83 L296.91,342.89 L297.91,342.95 L298.91,343.01 L299.91,343.06 L300.91,343.11 L301.91,343.15 L302.91,343.19 L303.91,343.22 L304.91,343.25 L305.91,343.28 L306.91,343.31 L307.91,343.34 L308.91,343.37 L309.91,343.42 L310.91,343.48 L311.91,343.57 L312.91,343.69 L313.91,343.84 L314.91,344.01 L315.91,344.20 L316.91,344.40 L317.91,344.63 L318.91,344.88 L319.91,345.17 L320.91,345.52 L321.91,345.92 L322.91,346.37 L323.91,346.86 L324.91,347.39 L325.91,347.98 L326.91,348.62 L327.91,349.34 L328.91,350.12 L329.91,350.94 L330.91,351.81 L331.91,352.69 L332.91,353.58 L333.91,354.46 L334.91,355.28 L335.91,356.01 L336.91,356.59 L337.91,357.00 L338.91,357.26 L339.91,357.41 L340.91,357.49 L341.91,357.54 L342.91,357.57 L343.91,357.60 L344.91,357.63 L345.91,357.65" fill="none" stroke="#ff8a1e" stroke-width="2.60" stroke-linejoin="round"/>
</g>
<rect x="49.80" y="280.40" width="293.95" height="164.15" fill="none" stroke="#5a5a5a" stroke-width="1.3"/>
<line x1="49.80" y1="444.55" x2="49.80" y2="447.55" stroke="#555" stroke-width="0.9"/>
<text x="49.80" y="456.15" text-anchor="middle" class="tk" textLength="4.50" lengthAdjust="spacingAndGlyphs">0</text>
<line x1="108.59" y1="444.55" x2="108.59" y2="447.55" stroke="#555" stroke-width="0.9"/>
<text x="108.59" y="456.15" text-anchor="middle" class="tk" textLength="9.00" lengthAdjust="spacingAndGlyphs">20</text>
<line x1="167.38" y1="444.55" x2="167.38" y2="447.55" stroke="#555" stroke-width="0.9"/>
<text x="167.38" y="456.15" text-anchor="middle" class="tk" textLength="9.00" lengthAdjust="spacingAndGlyphs">40</text>
<line x1="226.17" y1="444.55" x2="226.17" y2="447.55" stroke="#555" stroke-width="0.9"/>
<text x="226.17" y="456.15" text-anchor="middle" class="tk" textLength="9.00" lengthAdjust="spacingAndGlyphs">60</text>
<line x1="284.96" y1="444.55" x2="284.96" y2="447.55" stroke="#555" stroke-width="0.9"/>
<text x="284.96" y="456.15" text-anchor="middle" class="tk" textLength="9.00" lengthAdjust="spacingAndGlyphs">80</text>
<line x1="343.75" y1="444.55" x2="343.75" y2="447.55" stroke="#555" stroke-width="0.9"/>
<text x="343.75" y="456.15" text-anchor="middle" class="tk" textLength="13.50" lengthAdjust="spacingAndGlyphs">100</text>
<line x1="46.80" y1="288.20" x2="49.80" y2="288.20" stroke="#555" stroke-width="0.9"/>
<text x="34.20" y="291.50" class="tk" textLength="9.00" lengthAdjust="spacingAndGlyphs">20</text>
<line x1="46.80" y1="318.10" x2="49.80" y2="318.10" stroke="#555" stroke-width="0.9"/>
<text x="34.20" y="321.40" class="tk" textLength="9.00" lengthAdjust="spacingAndGlyphs">10</text>
<line x1="46.80" y1="348.20" x2="49.80" y2="348.20" stroke="#555" stroke-width="0.9"/>
<text x="38.70" y="351.50" class="tk" textLength="4.50" lengthAdjust="spacingAndGlyphs">0</text>
<line x1="46.80" y1="378.20" x2="49.80" y2="378.20" stroke="#555" stroke-width="0.9"/>
<text x="28.60" y="381.50" class="tk" textLength="14.60" lengthAdjust="spacingAndGlyphs">−10</text>
<line x1="46.80" y1="407.60" x2="49.80" y2="407.60" stroke="#555" stroke-width="0.9"/>
<text x="28.60" y="410.90" class="tk" textLength="14.60" lengthAdjust="spacingAndGlyphs">−20</text>
<line x1="46.80" y1="437.70" x2="49.80" y2="437.70" stroke="#555" stroke-width="0.9"/>
<text x="28.60" y="441.00" class="tk" textLength="14.60" lengthAdjust="spacingAndGlyphs">−30</text>
<rect x="513.50" y="280.40" width="47.30" height="164.15" fill="#e3f4f9" style="mix-blend-mode:multiply"/>
<rect x="627.00" y="280.40" width="15.80" height="164.15" fill="#e3f4f9" style="mix-blend-mode:multiply"/>
<path d="M514.00,345.70 C514.67,343.42 515.51,339.66 518.00,332.00 C520.49,324.34 526.07,306.55 528.92,299.73 C531.77,292.91 533.30,292.52 535.10,291.07 C536.90,289.63 538.19,290.15 539.74,291.07 C541.28,292.00 542.57,293.13 544.37,296.64 C546.18,300.14 548.50,306.43 550.56,312.09 C552.62,317.76 554.91,325.04 556.74,330.64 C558.56,336.24 560.71,343.19 561.50,345.70 Z" fill="#cfd2d2" style="mix-blend-mode:multiply"/>
<path d="M626.60,345.70 C627.33,341.64 629.60,326.56 631.00,321.37 C632.41,316.18 633.74,314.57 635.02,314.57 C636.31,314.57 637.34,316.63 638.73,321.37 C640.12,326.11 642.57,338.95 643.37,343.01 C644.16,347.06 643.48,345.25 643.50,345.70 Z" fill="#cfd2d2" style="mix-blend-mode:multiply"/>
<line x1="432.45" y1="345.70" x2="726.90" y2="345.70" stroke="#444" stroke-width="1.3" stroke-dasharray="2.4,1.75"/>
<line x1="432.45" y1="433.7" x2="726.90" y2="433.7" stroke="#777" stroke-width="0.9" stroke-dasharray="1.2,1.2"/>
<text x="435.00" y="317.80" class="crit" textLength="76.60" lengthAdjust="spacingAndGlyphs">Critical threshold at</text>
<text x="514.50" y="317.80" class="crit" font-style="italic" textLength="4.60" lengthAdjust="spacingAndGlyphs">α</text>
<text x="519.40" y="317.80" class="crit" textLength="4.20" lengthAdjust="spacingAndGlyphs">=</text>
<text x="524.80" y="317.80" class="crit" textLength="20.40" lengthAdjust="spacingAndGlyphs">0.05:</text>
<text x="551.00" y="317.80" class="crit" font-style="italic" textLength="4.40" lengthAdjust="spacingAndGlyphs">F</text>
<text x="556.40" y="314.40" class="crit" textLength="2.60" lengthAdjust="spacingAndGlyphs">*</text>
<text x="560.80" y="317.80" class="crit" textLength="28.40" lengthAdjust="spacingAndGlyphs">=7.625</text>
<path d="M430.40,410.00 C431.06,410.20 435.64,412.40 437.00,412.00 C438.36,411.60 442.70,408.20 444.00,406.00 C445.30,403.80 448.80,394.00 450.00,390.00 C451.20,386.00 454.90,369.90 456.00,366.00 C457.10,362.10 460.20,352.66 461.00,351.00 C461.80,349.34 463.40,349.50 464.00,349.40 C464.60,349.30 466.20,349.14 467.00,350.00 C467.80,350.86 470.90,356.20 472.00,358.00 C473.10,359.80 476.80,366.50 478.00,368.00 C479.20,369.50 482.80,372.40 484.00,373.00 C485.20,373.60 488.80,374.20 490.00,374.00 C491.20,373.80 494.80,371.90 496.00,371.00 C497.20,370.10 500.80,366.50 502.00,365.00 C503.20,363.50 506.90,357.90 508.00,356.00 C509.10,354.10 512.00,348.40 513.00,346.00 C514.00,343.60 516.41,336.63 518.00,332.00 C519.59,327.37 527.21,303.82 528.92,299.73 C530.63,295.64 534.02,291.94 535.10,291.07 C536.18,290.21 538.81,290.52 539.74,291.07 C540.66,291.63 543.29,294.54 544.37,296.64 C545.46,298.74 549.32,308.69 550.56,312.09 C551.79,315.49 555.50,326.93 556.74,330.64 C557.98,334.35 561.53,345.17 562.92,349.19 C564.31,353.21 569.10,365.88 570.65,370.83 C572.19,375.77 577.44,395.25 578.38,398.65 C579.31,402.05 579.37,402.98 580.00,404.83 C580.63,406.68 583.55,414.88 584.64,417.19 C585.72,419.51 589.58,426.47 590.82,428.01 C592.06,429.56 595.61,432.19 597.00,432.65 C598.39,433.11 603.34,433.11 604.73,432.65 C606.12,432.19 609.83,430.18 610.91,428.01 C611.99,425.85 614.47,416.42 615.55,411.01 C616.63,405.60 620.65,380.72 621.73,373.92 C622.81,367.12 625.44,348.26 626.37,343.01 C627.30,337.75 630.14,324.21 631.00,321.37 C631.87,318.52 634.25,314.57 635.02,314.57 C635.80,314.57 637.90,318.52 638.73,321.37 C639.57,324.21 642.29,338.06 643.37,343.01 C644.45,347.95 648.32,365.42 649.55,370.83 C650.79,376.24 654.50,394.01 655.73,397.10 C656.97,400.19 660.53,401.12 661.92,401.74 C663.31,402.36 668.25,402.67 669.64,403.28 C671.04,403.90 674.59,406.53 675.83,407.92 C677.06,409.31 680.77,415.49 682.01,417.19 C683.25,418.89 686.96,423.93 688.19,424.92 C689.43,425.91 693.14,427.24 694.37,427.09 C695.61,426.93 699.32,424.83 700.56,423.38 C701.79,421.92 705.50,414.88 706.74,412.56 C707.98,410.24 711.84,401.74 712.92,400.19 C714.00,398.65 716.23,397.47 717.56,397.10 C718.89,396.73 725.35,396.55 726.21,396.48" fill="none" stroke="#111" stroke-width="2.1" stroke-linejoin="round"/>
<rect x="432.45" y="280.40" width="294.45" height="164.15" fill="none" stroke="#5a5a5a" stroke-width="1.3"/>
<line x1="432.45" y1="444.55" x2="432.45" y2="447.55" stroke="#555" stroke-width="0.9"/>
<text x="432.45" y="456.15" text-anchor="middle" class="tk" textLength="4.50" lengthAdjust="spacingAndGlyphs">0</text>
<line x1="491.34" y1="444.55" x2="491.34" y2="447.55" stroke="#555" stroke-width="0.9"/>
<text x="491.34" y="456.15" text-anchor="middle" class="tk" textLength="9.00" lengthAdjust="spacingAndGlyphs">20</text>
<line x1="550.23" y1="444.55" x2="550.23" y2="447.55" stroke="#555" stroke-width="0.9"/>
<text x="550.23" y="456.15" text-anchor="middle" class="tk" textLength="9.00" lengthAdjust="spacingAndGlyphs">40</text>
<line x1="609.12" y1="444.55" x2="609.12" y2="447.55" stroke="#555" stroke-width="0.9"/>
<text x="609.12" y="456.15" text-anchor="middle" class="tk" textLength="9.00" lengthAdjust="spacingAndGlyphs">60</text>
<line x1="668.01" y1="444.55" x2="668.01" y2="447.55" stroke="#555" stroke-width="0.9"/>
<text x="668.01" y="456.15" text-anchor="middle" class="tk" textLength="9.00" lengthAdjust="spacingAndGlyphs">80</text>
<line x1="726.90" y1="444.55" x2="726.90" y2="447.55" stroke="#555" stroke-width="0.9"/>
<text x="726.90" y="456.15" text-anchor="middle" class="tk" textLength="13.50" lengthAdjust="spacingAndGlyphs">100</text>
<line x1="429.45" y1="433.40" x2="432.45" y2="433.40" stroke="#555" stroke-width="0.9"/>
<text x="421.35" y="436.70" class="tk" textLength="4.50" lengthAdjust="spacingAndGlyphs">0</text>
<line x1="429.45" y1="410.20" x2="432.45" y2="410.20" stroke="#555" stroke-width="0.9"/>
<text x="421.35" y="413.50" class="tk" textLength="4.50" lengthAdjust="spacingAndGlyphs">2</text>
<line x1="429.45" y1="387.30" x2="432.45" y2="387.30" stroke="#555" stroke-width="0.9"/>
<text x="421.35" y="390.60" class="tk" textLength="4.50" lengthAdjust="spacingAndGlyphs">4</text>
<line x1="429.45" y1="364.20" x2="432.45" y2="364.20" stroke="#555" stroke-width="0.9"/>
<text x="421.35" y="367.50" class="tk" textLength="4.50" lengthAdjust="spacingAndGlyphs">6</text>
<line x1="429.45" y1="341.10" x2="432.45" y2="341.10" stroke="#555" stroke-width="0.9"/>
<text x="421.35" y="344.40" class="tk" textLength="4.50" lengthAdjust="spacingAndGlyphs">8</text>
<line x1="429.45" y1="318.20" x2="432.45" y2="318.20" stroke="#555" stroke-width="0.9"/>
<text x="416.85" y="321.50" class="tk" textLength="9.00" lengthAdjust="spacingAndGlyphs">10</text>
<line x1="429.45" y1="295.20" x2="432.45" y2="295.20" stroke="#555" stroke-width="0.9"/>
<text x="416.85" y="298.50" class="tk" textLength="9.00" lengthAdjust="spacingAndGlyphs">12</text>
<text x="14.8" y="15.0" class="lab pl" font-size="12" textLength="17.3" lengthAdjust="spacingAndGlyphs">(A)</text>
<text x="15.1" y="274.6" class="lab pl" font-size="12" textLength="17.3" lengthAdjust="spacingAndGlyphs">(B)</text>
<text x="141.4" y="220" class="lab big" font-size="17.5" textLength="109.6" lengthAdjust="spacingAndGlyphs">Gait Cycle (%)</text>
<text x="141.4" y="477.5" class="lab big" font-size="17.5" textLength="109.6" lengthAdjust="spacingAndGlyphs">Gait Cycle (%)</text>
<text transform="translate(19,129.7) rotate(-90)" class="lab big" font-size="17.5" textLength="53" lengthAdjust="spacingAndGlyphs"><tspan font-style="italic">θ</tspan> (deg)</text>
<text transform="translate(19,388.4) rotate(-90)" class="lab big" font-size="17.5" textLength="53" lengthAdjust="spacingAndGlyphs"><tspan font-style="italic">θ</tspan> (deg)</text>
<text transform="translate(415.2,127.5) rotate(-90)" class="lab" font-size="14" textLength="46.6" lengthAdjust="spacingAndGlyphs">SPM{F}</text>
<text transform="translate(411.6,387) rotate(-90)" class="lab" font-size="14" textLength="46" lengthAdjust="spacingAndGlyphs">SPM{F}</text>
<text x="535" y="13.6" class="lab ttl" font-size="13.6" textLength="103.4" lengthAdjust="spacingAndGlyphs">p = (0.049, 0.048)</text>
<text x="525.9" y="276.3" class="lab ttl" font-size="13.6" textLength="103.6" lengthAdjust="spacingAndGlyphs">p = (0.022, 0.046)</text>
<rect x="599.5" y="510.5" width="86" height="40" fill="none" stroke="#f6f6f6" stroke-width="1"/>
<rect x="600.5" y="518" width="30.5" height="6" fill="#6a2ca6"/>
<rect x="600.5" y="536" width="30.5" height="6" fill="#ff8514"/>
<text x="637.8" y="525.7" class="lab leg" font-size="12.5" textLength="42.6" lengthAdjust="spacingAndGlyphs">Control</text>
<text x="637.8" y="543.1" class="lab leg" font-size="12.5" textLength="34.6" lengthAdjust="spacingAndGlyphs">pwMS</text>
</svg></body></html>
